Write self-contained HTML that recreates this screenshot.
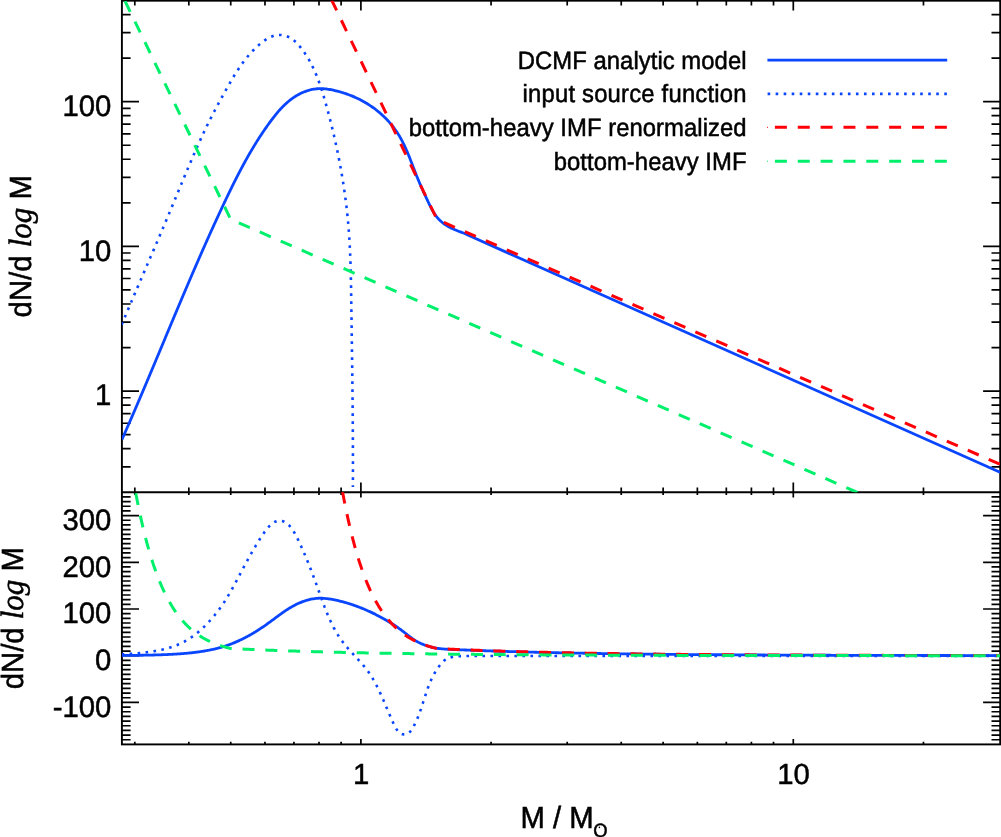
<!DOCTYPE html>
<html><head><meta charset="utf-8"><title>DCMF plot</title>
<style>html,body{margin:0;padding:0;background:#fff}svg{display:block}</style></head>
<body><svg width="1001" height="837" viewBox="0 0 1001 837">
<defs>
<clipPath id="ct"><rect x="121.9" y="0.7" width="878.3000000000001" height="491.6"/></clipPath>
<clipPath id="cb"><rect x="121.9" y="492.3" width="878.3000000000001" height="252.09999999999997"/></clipPath>
</defs>
<rect width="1001" height="837" fill="#fff"/>
<g fill="none" stroke="#000" stroke-width="1.9">
<path d="M121.90,466.79L130.60,466.79M1000.20,466.79L991.50,466.79M121.90,448.71L130.60,448.71M1000.20,448.71L991.50,448.71M121.90,434.69L130.60,434.69M1000.20,434.69L991.50,434.69M121.90,423.23L130.60,423.23M1000.20,423.23L991.50,423.23M121.90,413.54L130.60,413.54M1000.20,413.54L991.50,413.54M121.90,405.14L130.60,405.14M1000.20,405.14L991.50,405.14M121.90,397.74L130.60,397.74M1000.20,397.74L991.50,397.74M121.90,391.12L139.00,391.12M1000.20,391.12L983.10,391.12M121.90,347.55L130.60,347.55M1000.20,347.55L991.50,347.55M121.90,322.07L130.60,322.07M1000.20,322.07L991.50,322.07M121.90,303.99L130.60,303.99M1000.20,303.99L991.50,303.99M121.90,289.97L130.60,289.97M1000.20,289.97L991.50,289.97M121.90,278.51L130.60,278.51M1000.20,278.51L991.50,278.51M121.90,268.82L130.60,268.82M1000.20,268.82L991.50,268.82M121.90,260.42L130.60,260.42M1000.20,260.42L991.50,260.42M121.90,253.02L130.60,253.02M1000.20,253.02L991.50,253.02M121.90,246.40L139.00,246.40M1000.20,246.40L983.10,246.40M121.90,202.83L130.60,202.83M1000.20,202.83L991.50,202.83M121.90,177.35L130.60,177.35M1000.20,177.35L991.50,177.35M121.90,159.27L130.60,159.27M1000.20,159.27L991.50,159.27M121.90,145.25L130.60,145.25M1000.20,145.25L991.50,145.25M121.90,133.79L130.60,133.79M1000.20,133.79L991.50,133.79M121.90,124.10L130.60,124.10M1000.20,124.10L991.50,124.10M121.90,115.70L130.60,115.70M1000.20,115.70L991.50,115.70M121.90,108.30L130.60,108.30M1000.20,108.30L991.50,108.30M121.90,101.68L139.00,101.68M1000.20,101.68L983.10,101.68M121.90,58.11L130.60,58.11M1000.20,58.11L991.50,58.11M121.90,32.63L130.60,32.63M1000.20,32.63L991.50,32.63M121.90,14.55L130.60,14.55M1000.20,14.55L991.50,14.55M121.90,739.76L130.60,739.76M1000.20,739.76L991.50,739.76M121.90,735.09L130.60,735.09M1000.20,735.09L991.50,735.09M121.90,730.42L130.60,730.42M1000.20,730.42L991.50,730.42M121.90,725.75L130.60,725.75M1000.20,725.75L991.50,725.75M121.90,721.08L130.60,721.08M1000.20,721.08L991.50,721.08M121.90,716.41L130.60,716.41M1000.20,716.41L991.50,716.41M121.90,711.74L130.60,711.74M1000.20,711.74L991.50,711.74M121.90,707.07L130.60,707.07M1000.20,707.07L991.50,707.07M121.90,702.40L139.00,702.40M1000.20,702.40L983.10,702.40M121.90,697.73L130.60,697.73M1000.20,697.73L991.50,697.73M121.90,693.06L130.60,693.06M1000.20,693.06L991.50,693.06M121.90,688.39L130.60,688.39M1000.20,688.39L991.50,688.39M121.90,683.72L130.60,683.72M1000.20,683.72L991.50,683.72M121.90,679.05L130.60,679.05M1000.20,679.05L991.50,679.05M121.90,674.38L130.60,674.38M1000.20,674.38L991.50,674.38M121.90,669.71L130.60,669.71M1000.20,669.71L991.50,669.71M121.90,665.04L130.60,665.04M1000.20,665.04L991.50,665.04M121.90,660.37L130.60,660.37M1000.20,660.37L991.50,660.37M121.90,655.70L139.00,655.70M1000.20,655.70L983.10,655.70M121.90,651.03L130.60,651.03M1000.20,651.03L991.50,651.03M121.90,646.36L130.60,646.36M1000.20,646.36L991.50,646.36M121.90,641.69L130.60,641.69M1000.20,641.69L991.50,641.69M121.90,637.02L130.60,637.02M1000.20,637.02L991.50,637.02M121.90,632.35L130.60,632.35M1000.20,632.35L991.50,632.35M121.90,627.68L130.60,627.68M1000.20,627.68L991.50,627.68M121.90,623.01L130.60,623.01M1000.20,623.01L991.50,623.01M121.90,618.34L130.60,618.34M1000.20,618.34L991.50,618.34M121.90,613.67L130.60,613.67M1000.20,613.67L991.50,613.67M121.90,609.00L139.00,609.00M1000.20,609.00L983.10,609.00M121.90,604.33L130.60,604.33M1000.20,604.33L991.50,604.33M121.90,599.66L130.60,599.66M1000.20,599.66L991.50,599.66M121.90,594.99L130.60,594.99M1000.20,594.99L991.50,594.99M121.90,590.32L130.60,590.32M1000.20,590.32L991.50,590.32M121.90,585.65L130.60,585.65M1000.20,585.65L991.50,585.65M121.90,580.98L130.60,580.98M1000.20,580.98L991.50,580.98M121.90,576.31L130.60,576.31M1000.20,576.31L991.50,576.31M121.90,571.64L130.60,571.64M1000.20,571.64L991.50,571.64M121.90,566.97L130.60,566.97M1000.20,566.97L991.50,566.97M121.90,562.30L139.00,562.30M1000.20,562.30L983.10,562.30M121.90,557.63L130.60,557.63M1000.20,557.63L991.50,557.63M121.90,552.96L130.60,552.96M1000.20,552.96L991.50,552.96M121.90,548.29L130.60,548.29M1000.20,548.29L991.50,548.29M121.90,543.62L130.60,543.62M1000.20,543.62L991.50,543.62M121.90,538.95L130.60,538.95M1000.20,538.95L991.50,538.95M121.90,534.28L130.60,534.28M1000.20,534.28L991.50,534.28M121.90,529.61L130.60,529.61M1000.20,529.61L991.50,529.61M121.90,524.94L130.60,524.94M1000.20,524.94L991.50,524.94M121.90,520.27L130.60,520.27M1000.20,520.27L991.50,520.27M121.90,515.60L139.00,515.60M1000.20,515.60L983.10,515.60M121.90,510.93L130.60,510.93M1000.20,510.93L991.50,510.93M121.90,506.26L130.60,506.26M1000.20,506.26L991.50,506.26M121.90,501.59L130.60,501.59M1000.20,501.59L991.50,501.59M121.90,496.92L130.60,496.92M1000.20,496.92L991.50,496.92M134.81,0.70L134.81,5.60M134.81,492.30L134.81,487.40M134.81,492.30L134.81,494.90M134.81,744.40L134.81,741.80M188.83,0.70L188.83,5.60M188.83,492.30L188.83,487.40M188.83,492.30L188.83,494.90M188.83,744.40L188.83,741.80M230.73,0.70L230.73,5.60M230.73,492.30L230.73,487.40M230.73,492.30L230.73,494.90M230.73,744.40L230.73,741.80M264.97,0.70L264.97,5.60M264.97,492.30L264.97,487.40M264.97,492.30L264.97,494.90M264.97,744.40L264.97,741.80M293.92,0.70L293.92,5.60M293.92,492.30L293.92,487.40M293.92,492.30L293.92,494.90M293.92,744.40L293.92,741.80M319.00,0.70L319.00,5.60M319.00,492.30L319.00,487.40M319.00,492.30L319.00,494.90M319.00,744.40L319.00,741.80M341.11,0.70L341.11,5.60M341.11,492.30L341.11,487.40M341.11,492.30L341.11,494.90M341.11,744.40L341.11,741.80M360.90,0.70L360.90,10.50M360.90,492.30L360.90,482.50M360.90,492.30L360.90,497.60M360.90,744.40L360.90,739.10M491.07,0.70L491.07,5.60M491.07,492.30L491.07,487.40M491.07,492.30L491.07,494.90M491.07,744.40L491.07,741.80M567.21,0.70L567.21,5.60M567.21,492.30L567.21,487.40M567.21,492.30L567.21,494.90M567.21,744.40L567.21,741.80M621.23,0.70L621.23,5.60M621.23,492.30L621.23,487.40M621.23,492.30L621.23,494.90M621.23,744.40L621.23,741.80M663.13,0.70L663.13,5.60M663.13,492.30L663.13,487.40M663.13,492.30L663.13,494.90M663.13,744.40L663.13,741.80M697.37,0.70L697.37,5.60M697.37,492.30L697.37,487.40M697.37,492.30L697.37,494.90M697.37,744.40L697.37,741.80M726.32,0.70L726.32,5.60M726.32,492.30L726.32,487.40M726.32,492.30L726.32,494.90M726.32,744.40L726.32,741.80M751.40,0.70L751.40,5.60M751.40,492.30L751.40,487.40M751.40,492.30L751.40,494.90M751.40,744.40L751.40,741.80M773.51,0.70L773.51,5.60M773.51,492.30L773.51,487.40M773.51,492.30L773.51,494.90M773.51,744.40L773.51,741.80M793.30,0.70L793.30,10.50M793.30,492.30L793.30,482.50M793.30,492.30L793.30,497.60M793.30,744.40L793.30,739.10M923.47,0.70L923.47,5.60M923.47,492.30L923.47,487.40M923.47,492.30L923.47,494.90M923.47,744.40L923.47,741.80" stroke-width="1.7"/>
<rect x="121.9" y="0.7" width="878.3000000000001" height="743.6999999999999"/>
<path d="M121.9,492.3L1000.2,492.3"/>
</g>
<g fill="none" stroke-width="3" stroke-linejoin="round" clip-path="url(#ct)">
<path d="M122.03,439.36 L122.55,438.21 L123.06,437.05 L123.57,435.89 L124.08,434.73 L124.59,433.58 L125.10,432.42 L125.61,431.26 L126.12,430.10 L126.63,428.94 L127.14,427.78 L127.65,426.62 L128.15,425.46 L128.66,424.30 L129.17,423.14 L129.67,421.98 L130.18,420.82 L130.68,419.66 L131.19,418.49 L131.69,417.33 L132.19,416.17 L132.70,415.01 L133.20,413.85 L133.70,412.68 L134.20,411.52 L134.70,410.36 L135.20,409.19 L135.70,408.03 L136.20,406.87 L136.70,405.70 L137.20,404.54 L137.70,403.38 L138.20,402.21 L138.69,401.05 L139.19,399.88 L139.69,398.72 L140.19,397.55 L140.68,396.39 L141.18,395.22 L141.67,394.06 L142.17,392.89 L142.67,391.72 L143.16,390.56 L143.65,389.39 L144.15,388.23 L144.64,387.06 L145.14,385.89 L145.63,384.73 L146.12,383.56 L146.62,382.39 L147.11,381.23 L147.60,380.06 L148.09,378.89 L148.59,377.73 L149.08,376.56 L149.57,375.39 L150.06,374.22 L150.55,373.06 L151.04,371.89 L151.53,370.72 L152.02,369.55 L152.52,368.38 L153.01,367.22 L153.50,366.05 L153.99,364.88 L154.48,363.71 L154.97,362.54 L155.46,361.37 L155.94,360.21 L156.43,359.04 L156.92,357.87 L157.41,356.70 L157.90,355.53 L158.39,354.36 L158.88,353.19 L159.37,352.02 L159.86,350.86 L160.35,349.69 L160.84,348.52 L161.32,347.35 L161.81,346.18 L162.30,345.01 L162.79,343.84 L163.28,342.67 L163.77,341.50 L164.26,340.34 L164.75,339.17 L165.23,338.00 L165.72,336.83 L166.21,335.66 L166.70,334.49 L167.19,333.32 L167.68,332.15 L168.17,330.98 L168.66,329.82 L169.15,328.65 L169.64,327.48 L170.13,326.31 L170.62,325.14 L171.10,323.97 L171.59,322.80 L172.08,321.64 L172.57,320.47 L173.06,319.30 L173.56,318.13 L174.05,316.96 L174.54,315.79 L175.03,314.63 L175.52,313.46 L176.01,312.29 L176.50,311.12 L176.99,309.95 L177.48,308.79 L177.98,307.62 L178.47,306.45 L178.96,305.28 L179.45,304.12 L179.95,302.95 L180.44,301.78 L180.93,300.62 L181.43,299.45 L181.92,298.28 L182.41,297.12 L182.91,295.95 L183.40,294.78 L183.90,293.62 L184.39,292.45 L184.89,291.28 L185.39,290.12 L185.88,288.95 L186.38,287.79 L186.88,286.62 L187.37,285.46 L187.87,284.29 L188.37,283.13 L188.87,281.96 L189.37,280.80 L189.86,279.63 L190.36,278.47 L190.86,277.31 L191.36,276.14 L191.87,274.98 L192.37,273.82 L192.87,272.65 L193.37,271.49 L193.87,270.33 L194.38,269.16 L194.88,268.00 L195.38,266.84 L195.89,265.68 L196.39,264.52 L196.90,263.35 L197.40,262.19 L197.91,261.03 L198.42,259.87 L198.92,258.71 L199.43,257.55 L199.94,256.39 L200.45,255.23 L200.96,254.07 L201.47,252.91 L201.98,251.75 L202.49,250.59 L203.00,249.43 L203.51,248.28 L204.03,247.12 L204.54,245.96 L205.05,244.80 L205.57,243.65 L206.08,242.49 L206.60,241.33 L207.12,240.18 L207.63,239.02 L208.15,237.86 L208.67,236.71 L209.19,235.55 L209.71,234.40 L210.23,233.24 L210.75,232.09 L211.27,230.94 L211.80,229.78 L212.32,228.63 L212.84,227.48 L213.37,226.32 L213.89,225.17 L214.42,224.02 L214.95,222.87 L215.47,221.72 L216.00,220.57 L216.53,219.42 L217.06,218.27 L217.59,217.12 L218.12,215.97 L218.66,214.82 L219.19,213.67 L219.72,212.52 L220.26,211.37 L220.79,210.22 L221.33,209.08 L221.87,207.93 L222.40,206.78 L222.94,205.64 L223.48,204.49 L224.02,203.35 L224.56,202.20 L225.11,201.06 L225.65,199.91 L226.19,198.77 L226.74,197.63 L227.29,196.48 L227.83,195.34 L228.38,194.20 L228.93,193.06 L229.49,191.92 L230.04,190.78 L230.59,189.64 L231.15,188.51 L231.71,187.37 L232.27,186.23 L232.83,185.10 L233.39,183.97 L233.96,182.83 L234.52,181.70 L235.09,180.57 L235.66,179.44 L236.23,178.31 L236.81,177.18 L237.38,176.06 L237.96,174.93 L238.54,173.81 L239.13,172.68 L239.71,171.56 L240.30,170.44 L240.89,169.32 L241.48,168.21 L242.08,167.09 L242.68,165.97 L243.28,164.86 L243.88,163.75 L244.49,162.64 L245.10,161.53 L245.71,160.42 L246.33,159.32 L246.94,158.21 L247.56,157.11 L248.19,156.01 L248.82,154.91 L249.45,153.82 L250.08,152.72 L250.72,151.63 L251.36,150.54 L252.00,149.45 L252.65,148.36 L253.30,147.28 L253.96,146.19 L254.61,145.11 L255.28,144.03 L255.94,142.96 L256.61,141.88 L257.28,140.81 L257.96,139.74 L258.64,138.67 L259.33,137.61 L260.02,136.54 L260.71,135.48 L261.41,134.42 L262.11,133.37 L262.82,132.31 L263.53,131.26 L264.24,130.21 L264.96,129.17 L265.69,128.12 L266.42,127.08 L267.15,126.04 L267.89,125.01 L268.63,123.97 L269.38,122.94 L270.13,121.92 L270.89,120.89 L271.65,119.87 L272.42,118.85 L273.19,117.84 L273.97,116.83 L274.76,115.83 L275.56,114.84 L276.36,113.85 L277.17,112.87 L278.00,111.90 L278.83,110.94 L279.67,109.99 L280.52,109.05 L281.38,108.12 L282.25,107.21 L283.14,106.31 L284.04,105.42 L284.94,104.54 L285.87,103.68 L286.80,102.84 L287.75,102.01 L288.72,101.20 L289.70,100.40 L290.69,99.63 L291.70,98.87 L292.73,98.13 L293.78,97.42 L294.84,96.72 L295.92,96.05 L297.01,95.40 L298.12,94.77 L299.24,94.17 L300.38,93.59 L301.53,93.04 L302.69,92.52 L303.86,92.03 L305.05,91.56 L306.24,91.13 L307.44,90.72 L308.65,90.35 L309.87,90.02 L311.09,89.71 L312.32,89.45 L313.55,89.21 L314.79,89.02 L316.03,88.86 L317.27,88.75 L318.52,88.67 L319.76,88.63 L321.01,88.63 L322.26,88.66 L323.50,88.73 L324.75,88.83 L326.00,88.96 L327.25,89.11 L328.49,89.30 L329.74,89.50 L330.99,89.73 L332.23,89.97 L333.47,90.23 L334.72,90.51 L335.96,90.80 L337.19,91.11 L338.43,91.43 L339.66,91.77 L340.89,92.12 L342.12,92.48 L343.34,92.86 L344.56,93.25 L345.77,93.66 L346.98,94.08 L348.19,94.51 L349.39,94.96 L350.58,95.43 L351.77,95.90 L352.96,96.39 L354.13,96.90 L355.30,97.41 L356.46,97.94 L357.62,98.49 L358.77,99.05 L359.91,99.62 L361.04,100.20 L362.16,100.80 L363.28,101.41 L364.39,102.04 L365.49,102.67 L366.58,103.32 L367.66,103.99 L368.73,104.66 L369.79,105.35 L370.84,106.05 L371.89,106.77 L372.92,107.49 L373.95,108.23 L374.96,108.98 L375.96,109.75 L376.96,110.52 L377.94,111.31 L378.91,112.11 L379.87,112.92 L380.82,113.75 L381.76,114.58 L382.69,115.43 L383.60,116.29 L384.51,117.16 L385.40,118.04 L386.28,118.93 L387.15,119.84 L388.00,120.75 L388.84,121.68 L389.67,122.62 L390.49,123.57 L391.30,124.53 L392.09,125.50 L392.87,126.48 L393.63,127.47 L394.38,128.48 L395.12,129.49 L395.84,130.52 L396.55,131.55 L397.24,132.59 L397.92,133.65 L398.59,134.71 L399.24,135.79 L399.88,136.87 L400.50,137.97 L401.11,139.07 L401.71,140.18 L402.30,141.30 L402.87,142.43 L403.44,143.56 L403.99,144.70 L404.54,145.85 L405.07,147.00 L405.60,148.16 L406.12,149.32 L406.63,150.49 L407.13,151.66 L407.63,152.84 L408.12,154.02 L408.61,155.21 L409.09,156.39 L409.56,157.58 L410.03,158.77 L410.50,159.97 L410.96,161.16 L411.43,162.36 L411.89,163.56 L412.34,164.75 L412.80,165.95 L413.26,167.14 L413.71,168.34 L414.17,169.53 L414.63,170.73 L415.09,171.92 L415.55,173.10 L416.01,174.29 L416.48,175.47 L416.95,176.65 L417.42,177.82 L417.90,178.99 L418.39,180.16 L418.87,181.32 L419.37,182.48 L419.86,183.63 L420.36,184.78 L420.87,185.93 L421.37,187.08 L421.88,188.23 L422.40,189.38 L422.92,190.52 L423.44,191.67 L423.96,192.81 L424.49,193.96 L425.01,195.10 L425.55,196.25 L426.08,197.40 L426.62,198.55 L427.16,199.70 L427.70,200.85 L428.24,202.01 L428.79,203.17 L429.34,204.32 L429.90,205.47 L430.48,206.62 L431.06,207.75 L431.66,208.88 L432.27,209.99 L432.90,211.09 L433.55,212.18 L434.22,213.24 L434.91,214.29 L435.62,215.32 L436.36,216.32 L437.13,217.29 L437.93,218.24 L438.75,219.16 L439.61,220.05 L440.50,220.90 L441.42,221.73 L442.38,222.53 L443.36,223.29 L444.36,224.03 L445.39,224.74 L446.45,225.42 L447.53,226.08 L448.62,226.71 L449.74,227.32 L450.88,227.90 L452.04,228.46 L453.20,228.99 L454.38,229.51 L455.57,230.01 L456.77,230.50 L457.97,230.97 L459.17,231.44 L460.38,231.89 L461.58,232.34 L462.77,232.78 L463.96,233.22 L465.14,233.65 L470.00,236.08 L1000.00,472.20" stroke="#0a46ff" stroke-width="2.8"/>
<path d="M121.65,324.72 L122.17,323.48 L122.70,322.23 L123.22,320.98 L123.74,319.73 L124.27,318.49 L124.79,317.24 L125.32,316.00 L125.84,314.75 L126.37,313.50 L126.90,312.26 L127.42,311.01 L127.95,309.77 L128.48,308.52 L129.01,307.28 L129.54,306.03 L130.07,304.79 L130.60,303.55 L131.13,302.30 L131.66,301.06 L132.19,299.81 L132.72,298.57 L133.25,297.33 L133.78,296.08 L134.31,294.84 L134.84,293.60 L135.37,292.35 L135.91,291.11 L136.44,289.87 L136.97,288.63 L137.50,287.38 L138.04,286.14 L138.57,284.90 L139.10,283.66 L139.64,282.42 L140.17,281.17 L140.70,279.93 L141.24,278.69 L141.77,277.45 L142.31,276.21 L142.84,274.97 L143.37,273.72 L143.91,272.48 L144.44,271.24 L144.98,270.00 L145.51,268.76 L146.05,267.52 L146.58,266.27 L147.12,265.03 L147.65,263.79 L148.18,262.55 L148.72,261.31 L149.25,260.07 L149.79,258.83 L150.32,257.58 L150.86,256.34 L151.39,255.10 L151.92,253.86 L152.46,252.62 L152.99,251.38 L153.53,250.13 L154.06,248.89 L154.59,247.65 L155.13,246.41 L155.66,245.17 L156.19,243.92 L156.73,242.68 L157.26,241.44 L157.79,240.20 L158.32,238.95 L158.85,237.71 L159.39,236.47 L159.92,235.23 L160.45,233.98 L160.98,232.74 L161.51,231.50 L162.04,230.25 L162.57,229.01 L163.10,227.77 L163.63,226.52 L164.16,225.28 L164.69,224.03 L165.21,222.79 L165.74,221.54 L166.27,220.30 L166.80,219.05 L167.32,217.81 L167.85,216.56 L168.37,215.32 L168.90,214.07 L169.42,212.82 L169.95,211.58 L170.47,210.33 L170.99,209.08 L171.52,207.84 L172.04,206.59 L172.56,205.34 L173.08,204.09 L173.60,202.85 L174.12,201.60 L174.64,200.35 L175.16,199.10 L175.68,197.85 L176.20,196.60 L176.72,195.35 L177.23,194.10 L177.75,192.85 L178.27,191.60 L178.78,190.35 L179.30,189.10 L179.82,187.85 L180.34,186.60 L180.85,185.35 L181.37,184.10 L181.89,182.85 L182.40,181.60 L182.92,180.35 L183.44,179.10 L183.96,177.85 L184.48,176.60 L185.00,175.35 L185.52,174.10 L186.04,172.86 L186.56,171.61 L187.08,170.36 L187.61,169.11 L188.13,167.87 L188.66,166.62 L189.18,165.37 L189.71,164.13 L190.24,162.89 L190.77,161.64 L191.30,160.40 L191.83,159.15 L192.36,157.91 L192.90,156.67 L193.44,155.43 L193.97,154.19 L194.51,152.95 L195.06,151.71 L195.60,150.48 L196.14,149.24 L196.69,148.00 L197.24,146.77 L197.79,145.53 L198.34,144.30 L198.89,143.07 L199.45,141.84 L200.01,140.61 L200.57,139.38 L201.13,138.15 L201.70,136.93 L202.27,135.70 L202.84,134.48 L203.41,133.25 L203.99,132.03 L204.56,130.81 L205.14,129.59 L205.73,128.37 L206.31,127.16 L206.90,125.94 L207.50,124.73 L208.09,123.52 L208.69,122.31 L209.29,121.10 L209.89,119.89 L210.50,118.68 L211.11,117.48 L211.73,116.28 L212.34,115.08 L212.96,113.88 L213.59,112.68 L214.21,111.48 L214.84,110.28 L215.47,109.09 L216.10,107.89 L216.74,106.70 L217.38,105.51 L218.02,104.32 L218.66,103.13 L219.31,101.94 L219.95,100.76 L220.60,99.57 L221.25,98.38 L221.90,97.20 L222.56,96.01 L223.21,94.83 L223.87,93.65 L224.53,92.46 L225.19,91.28 L225.85,90.10 L226.52,88.92 L227.18,87.74 L227.85,86.56 L228.52,85.38 L229.19,84.20 L229.86,83.03 L230.54,81.86 L231.22,80.69 L231.91,79.52 L232.60,78.36 L233.30,77.20 L234.00,76.05 L234.71,74.89 L235.42,73.75 L236.14,72.61 L236.86,71.47 L237.60,70.34 L238.34,69.21 L239.08,68.09 L239.84,66.98 L240.60,65.87 L241.38,64.77 L242.16,63.67 L242.95,62.59 L243.75,61.51 L244.56,60.44 L245.38,59.38 L246.22,58.32 L247.06,57.28 L247.92,56.24 L248.79,55.21 L249.67,54.20 L250.57,53.19 L251.47,52.20 L252.40,51.21 L253.33,50.24 L254.29,49.27 L255.25,48.32 L256.24,47.38 L257.24,46.45 L258.25,45.54 L259.28,44.64 L260.33,43.75 L261.40,42.87 L262.49,42.01 L263.59,41.17 L264.71,40.36 L265.85,39.59 L267.01,38.85 L268.19,38.16 L269.39,37.52 L270.60,36.94 L271.83,36.43 L273.09,35.98 L274.36,35.61 L275.65,35.32 L276.96,35.12 L278.28,35.00 L279.61,34.96 L280.94,35.00 L282.27,35.13 L283.59,35.34 L284.89,35.63 L286.17,35.99 L287.43,36.44 L288.65,36.96 L289.84,37.56 L290.99,38.23 L292.11,38.97 L293.18,39.78 L294.22,40.64 L295.22,41.55 L296.20,42.50 L297.15,43.49 L298.07,44.50 L298.98,45.53 L299.86,46.58 L300.72,47.64 L301.56,48.71 L302.39,49.80 L303.19,50.89 L303.98,51.99 L304.76,53.10 L305.51,54.22 L306.25,55.34 L306.97,56.48 L307.68,57.63 L308.37,58.78 L309.05,59.95 L309.71,61.12 L310.36,62.30 L310.99,63.48 L311.61,64.67 L312.22,65.87 L312.81,67.08 L313.39,68.30 L313.96,69.52 L314.51,70.74 L315.06,71.98 L315.59,73.21 L316.12,74.46 L316.63,75.71 L317.13,76.96 L317.62,78.22 L318.10,79.48 L318.58,80.75 L319.04,82.02 L319.50,83.30 L319.94,84.58 L320.38,85.86 L320.82,87.15 L321.24,88.44 L321.66,89.73 L322.07,91.02 L322.48,92.32 L322.88,93.62 L323.27,94.92 L323.66,96.22 L324.05,97.52 L324.43,98.83 L324.81,100.14 L325.18,101.44 L325.55,102.75 L325.92,104.06 L326.29,105.36 L326.65,106.67 L327.01,107.98 L327.36,109.29 L327.72,110.60 L328.07,111.90 L328.42,113.21 L328.77,114.52 L329.11,115.83 L329.45,117.14 L329.79,118.45 L330.13,119.76 L330.46,121.07 L330.79,122.38 L331.12,123.69 L331.45,125.00 L331.77,126.31 L332.09,127.62 L332.41,128.93 L332.73,130.24 L333.04,131.56 L333.35,132.87 L333.66,134.18 L333.97,135.50 L334.27,136.81 L334.57,138.13 L334.87,139.44 L335.16,140.76 L335.45,142.07 L335.74,143.39 L336.03,144.70 L336.32,146.02 L336.60,147.34 L336.88,148.66 L337.15,149.98 L337.43,151.30 L337.70,152.62 L337.97,153.94 L338.24,155.26 L338.50,156.58 L338.76,157.91 L339.02,159.23 L339.28,160.55 L339.53,161.88 L339.78,163.21 L340.03,164.53 L340.27,165.86 L340.52,167.19 L340.76,168.52 L341.00,169.85 L341.23,171.18 L341.46,172.51 L341.69,173.84 L341.92,175.17 L342.14,176.50 L342.37,177.84 L342.59,179.17 L342.80,180.51 L343.02,181.84 L343.23,183.18 L343.43,184.52 L343.64,185.85 L343.84,187.19 L344.04,188.53 L344.24,189.87 L344.43,191.21 L344.62,192.55 L344.81,193.89 L345.00,195.23 L345.18,196.57 L345.36,197.91 L345.54,199.26 L345.71,200.60 L345.88,201.94 L346.05,203.29 L346.21,204.63 L346.37,205.97 L346.53,207.32 L346.69,208.66 L346.84,210.01 L346.99,211.35 L347.14,212.70 L347.28,214.05 L347.42,215.39 L347.56,216.74 L347.69,218.09 L347.82,219.43 L347.95,220.78 L348.08,222.13 L348.20,223.48 L348.32,224.82 L348.43,226.17 L348.54,227.52 L348.65,228.87 L348.76,230.22 L348.86,231.56 L348.96,232.91 L349.06,234.26 L349.15,235.61 L349.24,236.96 L349.33,238.31 L349.41,239.66 L349.49,241.01 L349.57,242.36 L349.65,243.70 L349.72,245.05 L349.79,246.40 L349.86,247.75 L349.93,249.10 L349.99,250.45 L350.05,251.80 L350.11,253.15 L350.17,254.50 L350.22,255.85 L350.28,257.20 L350.33,258.55 L350.38,259.90 L350.42,261.25 L350.47,262.60 L350.51,263.95 L350.55,265.30 L350.60,266.65 L350.63,268.00 L350.67,269.35 L350.71,270.70 L350.74,272.05 L350.77,273.40 L350.81,274.75 L350.84,276.10 L350.87,277.46 L350.89,278.81 L350.92,280.16 L350.95,281.51 L350.97,282.86 L351.00,284.21 L351.02,285.56 L351.05,286.91 L351.07,288.26 L351.09,289.61 L351.11,290.97 L351.13,292.32 L351.15,293.67 L351.17,295.02 L351.19,296.37 L351.21,297.72 L351.23,299.07 L351.25,300.43 L351.27,301.78 L351.29,303.13 L351.31,304.48 L351.33,305.83 L351.35,307.18 L351.37,308.53 L351.39,309.89 L351.41,311.24 L351.43,312.59 L351.45,313.94 L351.47,315.29 L351.49,316.64 L351.51,318.00 L351.53,319.35 L351.55,320.70 L351.57,322.05 L351.59,323.40 L351.61,324.76 L351.63,326.11 L351.65,327.46 L351.66,328.81 L351.68,330.16 L351.70,331.52 L351.72,332.87 L351.74,334.22 L351.76,335.57 L351.78,336.92 L351.80,338.28 L351.82,339.63 L351.84,340.98 L351.86,342.33 L351.88,343.68 L351.90,345.04 L351.92,346.39 L351.93,347.74 L351.95,349.09 L351.97,350.44 L351.99,351.80 L352.01,353.15 L352.03,354.50 L352.05,355.85 L352.06,357.21 L352.08,358.56 L352.10,359.91 L352.12,361.26 L352.14,362.61 L352.15,363.97 L352.17,365.32 L352.19,366.67 L352.21,368.02 L352.22,369.38 L352.24,370.73 L352.26,372.08 L352.28,373.43 L352.29,374.78 L352.31,376.14 L352.33,377.49 L352.34,378.84 L352.36,380.19 L352.37,381.55 L352.39,382.90 L352.41,384.25 L352.42,385.60 L352.44,386.96 L352.45,388.31 L352.47,389.66 L352.48,391.01 L352.50,392.37 L352.51,393.72 L352.53,395.07 L352.54,396.42 L352.55,397.77 L352.57,399.13 L352.58,400.48 L352.59,401.83 L352.61,403.18 L352.62,404.54 L352.63,405.89 L352.65,407.24 L352.66,408.59 L352.67,409.94 L352.68,411.30 L352.69,412.65 L352.71,414.00 L352.72,415.35 L352.73,416.71 L352.74,418.06 L352.75,419.41 L352.76,420.76 L352.77,422.11 L352.78,423.47 L352.79,424.82 L352.80,426.17 L352.81,427.52 L352.82,428.88 L352.82,430.23 L352.83,431.58 L352.84,432.93 L352.85,434.28 L352.85,435.64 L352.86,436.99 L352.87,438.34 L352.88,439.69 L352.88,441.04 L352.89,442.40 L352.89,443.75 L352.90,445.10 L352.90,446.45 L352.91,447.80 L352.91,449.16 L352.92,450.51 L352.92,451.86 L352.92,453.21 L352.93,454.56 L352.93,455.91 L352.93,457.27 L352.93,458.62 L352.94,459.97 L352.94,461.32 L352.94,462.67 L352.94,464.02 L352.94,465.38 L352.94,466.73 L352.94,468.08 L352.94,469.43 L352.94,470.78 L352.94,472.13 L352.93,473.48 L352.93,474.84 L352.93,476.19 L352.93,477.54 L352.92,478.89 L352.92,480.24 L352.91,481.59 L352.91,482.94 L352.91,484.29 L352.90,485.65 L352.89,487.00" stroke="#0a46ff" stroke-width="2.6" stroke-dasharray="2.6 5.4"/>
<path d="M325.00,-13.80 L437.00,219.50 L1000.00,464.24" stroke="#ff0008" stroke-dasharray="12 10.85" stroke-dashoffset="7.94"/>
<path d="M121.90,-5.37 L230.70,219.30 L1000.00,554.56" stroke="#00f06c" stroke-dasharray="12 10.85" stroke-dashoffset="15.68"/>
</g>
<g fill="none" stroke-width="3" stroke-linejoin="round" clip-path="url(#cb)">
<path d="M122.03,655.48 L122.55,655.48 L123.06,655.48 L123.57,655.47 L124.08,655.47 L124.59,655.46 L125.10,655.46 L125.61,655.45 L126.12,655.45 L126.63,655.44 L127.14,655.44 L127.65,655.43 L128.15,655.43 L128.66,655.42 L129.17,655.42 L129.67,655.41 L130.18,655.41 L130.68,655.40 L131.19,655.40 L131.69,655.39 L132.19,655.39 L132.70,655.38 L133.20,655.37 L133.70,655.37 L134.20,655.36 L134.70,655.36 L135.20,655.35 L135.70,655.34 L136.20,655.34 L136.70,655.33 L137.20,655.32 L137.70,655.32 L138.20,655.31 L138.69,655.30 L139.19,655.29 L139.69,655.29 L140.19,655.28 L140.68,655.27 L141.18,655.26 L141.67,655.25 L142.17,655.25 L142.67,655.24 L143.16,655.23 L143.65,655.22 L144.15,655.21 L144.64,655.20 L145.14,655.19 L145.63,655.18 L146.12,655.17 L146.62,655.16 L147.11,655.15 L147.60,655.14 L148.09,655.13 L148.59,655.12 L149.08,655.11 L149.57,655.10 L150.06,655.09 L150.55,655.08 L151.04,655.07 L151.53,655.05 L152.02,655.04 L152.52,655.03 L153.01,655.02 L153.50,655.00 L153.99,654.99 L154.48,654.98 L154.97,654.96 L155.46,654.95 L155.94,654.94 L156.43,654.92 L156.92,654.91 L157.41,654.89 L157.90,654.88 L158.39,654.86 L158.88,654.85 L159.37,654.83 L159.86,654.81 L160.35,654.80 L160.84,654.78 L161.32,654.76 L161.81,654.75 L162.30,654.73 L162.79,654.71 L163.28,654.69 L163.77,654.67 L164.26,654.65 L164.75,654.63 L165.23,654.61 L165.72,654.59 L166.21,654.57 L166.70,654.55 L167.19,654.53 L167.68,654.51 L168.17,654.48 L168.66,654.46 L169.15,654.44 L169.64,654.41 L170.13,654.39 L170.62,654.37 L171.10,654.34 L171.59,654.32 L172.08,654.29 L172.57,654.26 L173.06,654.24 L173.56,654.21 L174.05,654.18 L174.54,654.15 L175.03,654.12 L175.52,654.09 L176.01,654.06 L176.50,654.03 L176.99,654.00 L177.48,653.97 L177.98,653.94 L178.47,653.90 L178.96,653.87 L179.45,653.84 L179.95,653.80 L180.44,653.77 L180.93,653.73 L181.43,653.69 L181.92,653.65 L182.41,653.62 L182.91,653.58 L183.40,653.54 L183.90,653.50 L184.39,653.46 L184.89,653.41 L185.39,653.37 L185.88,653.33 L186.38,653.28 L186.88,653.24 L187.37,653.19 L187.87,653.14 L188.37,653.10 L188.87,653.05 L189.37,653.00 L189.86,652.95 L190.36,652.90 L190.86,652.84 L191.36,652.79 L191.87,652.74 L192.37,652.68 L192.87,652.62 L193.37,652.57 L193.87,652.51 L194.38,652.45 L194.88,652.39 L195.38,652.33 L195.89,652.26 L196.39,652.20 L196.90,652.13 L197.40,652.07 L197.91,652.00 L198.42,651.93 L198.92,651.86 L199.43,651.79 L199.94,651.72 L200.45,651.64 L200.96,651.57 L201.47,651.49 L201.98,651.41 L202.49,651.33 L203.00,651.25 L203.51,651.17 L204.03,651.08 L204.54,651.00 L205.05,650.91 L205.57,650.82 L206.08,650.73 L206.60,650.64 L207.12,650.54 L207.63,650.45 L208.15,650.35 L208.67,650.25 L209.19,650.15 L209.71,650.05 L210.23,649.94 L210.75,649.84 L211.27,649.73 L211.80,649.62 L212.32,649.50 L212.84,649.39 L213.37,649.27 L213.89,649.15 L214.42,649.03 L214.95,648.91 L215.47,648.78 L216.00,648.66 L216.53,648.53 L217.06,648.39 L217.59,648.26 L218.12,648.12 L218.66,647.98 L219.19,647.84 L219.72,647.69 L220.26,647.55 L220.79,647.40 L221.33,647.24 L221.87,647.09 L222.40,646.93 L222.94,646.77 L223.48,646.60 L224.02,646.44 L224.56,646.27 L225.11,646.09 L225.65,645.92 L226.19,645.74 L226.74,645.55 L227.29,645.37 L227.83,645.18 L228.38,644.98 L228.93,644.79 L229.49,644.59 L230.04,644.39 L230.59,644.18 L231.15,643.97 L231.71,643.75 L232.27,643.54 L232.83,643.31 L233.39,643.09 L233.96,642.86 L234.52,642.63 L235.09,642.39 L235.66,642.15 L236.23,641.90 L236.81,641.65 L237.38,641.40 L237.96,641.14 L238.54,640.88 L239.13,640.61 L239.71,640.34 L240.30,640.06 L240.89,639.78 L241.48,639.50 L242.08,639.21 L242.68,638.91 L243.28,638.61 L243.88,638.31 L244.49,638.00 L245.10,637.68 L245.71,637.36 L246.33,637.03 L246.94,636.70 L247.56,636.37 L248.19,636.03 L248.82,635.68 L249.45,635.33 L250.08,634.97 L250.72,634.61 L251.36,634.24 L252.00,633.86 L252.65,633.48 L253.30,633.09 L253.96,632.70 L254.61,632.30 L255.28,631.90 L255.94,631.48 L256.61,631.07 L257.28,630.64 L257.96,630.21 L258.64,629.78 L259.33,629.33 L260.02,628.88 L260.71,628.43 L261.41,627.96 L262.11,627.49 L262.82,627.02 L263.53,626.53 L264.24,626.04 L264.96,625.54 L265.69,625.04 L266.42,624.53 L267.15,624.01 L267.89,623.48 L268.63,622.95 L269.38,622.40 L270.13,621.86 L270.89,621.30 L271.65,620.74 L272.42,620.17 L273.19,619.59 L273.97,619.01 L274.76,618.42 L275.56,617.82 L276.36,617.22 L277.17,616.62 L278.00,616.01 L278.83,615.40 L279.67,614.79 L280.52,614.17 L281.38,613.55 L282.25,612.93 L283.14,612.31 L284.04,611.70 L284.94,611.08 L285.87,610.46 L286.80,609.85 L287.75,609.24 L288.72,608.64 L289.70,608.04 L290.69,607.45 L291.70,606.87 L292.73,606.29 L293.78,605.72 L294.84,605.17 L295.92,604.62 L297.01,604.09 L298.12,603.57 L299.24,603.07 L300.38,602.59 L301.53,602.12 L302.69,601.67 L303.86,601.25 L305.05,600.84 L306.24,600.46 L307.44,600.11 L308.65,599.78 L309.87,599.48 L311.09,599.21 L312.32,598.96 L313.55,598.76 L314.79,598.58 L316.03,598.44 L317.27,598.33 L318.52,598.26 L319.76,598.22 L321.01,598.22 L322.26,598.25 L323.50,598.31 L324.75,598.41 L326.00,598.52 L327.25,598.66 L328.49,598.83 L329.74,599.01 L330.99,599.22 L332.23,599.44 L333.47,599.67 L334.72,599.92 L335.96,600.18 L337.19,600.45 L338.43,600.73 L339.66,601.02 L340.89,601.33 L342.12,601.64 L343.34,601.96 L344.56,602.30 L345.77,602.64 L346.98,603.00 L348.19,603.36 L349.39,603.73 L350.58,604.11 L351.77,604.50 L352.96,604.90 L354.13,605.31 L355.30,605.72 L356.46,606.14 L357.62,606.57 L358.77,607.00 L359.91,607.44 L361.04,607.89 L362.16,608.34 L363.28,608.80 L364.39,609.26 L365.49,609.73 L366.58,610.21 L367.66,610.68 L368.73,611.17 L369.79,611.65 L370.84,612.14 L371.89,612.63 L372.92,613.13 L373.95,613.62 L374.96,614.12 L375.96,614.63 L376.96,615.13 L377.94,615.64 L378.91,616.14 L379.87,616.65 L380.82,617.16 L381.76,617.67 L382.69,618.18 L383.60,618.69 L384.51,619.19 L385.40,619.70 L386.28,620.21 L387.15,620.72 L388.00,621.22 L388.84,621.73 L389.67,622.23 L390.49,622.73 L391.30,623.23 L392.09,623.73 L392.87,624.23 L393.63,624.72 L394.38,625.21 L395.12,625.70 L395.84,626.18 L396.55,626.67 L397.24,627.14 L397.92,627.62 L398.59,628.09 L399.24,628.56 L399.88,629.02 L400.50,629.48 L401.11,629.94 L401.71,630.39 L402.30,630.84 L402.87,631.28 L403.44,631.72 L403.99,632.15 L404.54,632.57 L405.07,632.99 L405.60,633.41 L406.12,633.82 L406.63,634.22 L407.13,634.62 L407.63,635.01 L408.12,635.39 L408.61,635.77 L409.09,636.15 L409.56,636.51 L410.03,636.87 L410.50,637.23 L410.96,637.57 L411.43,637.92 L411.89,638.25 L412.34,638.58 L412.80,638.90 L413.26,639.22 L413.71,639.53 L414.17,639.83 L414.63,640.13 L415.09,640.42 L415.55,640.71 L416.01,640.99 L416.48,641.26 L416.95,641.53 L417.42,641.79 L417.90,642.05 L418.39,642.30 L418.87,642.55 L419.37,642.79 L419.86,643.02 L420.36,643.25 L420.87,643.48 L421.37,643.70 L421.88,643.92 L422.40,644.13 L422.92,644.34 L423.44,644.54 L423.96,644.74 L424.49,644.94 L425.01,645.14 L425.55,645.33 L426.08,645.52 L426.62,645.70 L427.16,645.88 L427.70,646.06 L428.24,646.24 L428.79,646.41 L429.34,646.58 L429.90,646.74 L430.48,646.91 L431.06,647.06 L431.66,647.22 L432.27,647.37 L432.90,647.51 L433.55,647.65 L434.22,647.79 L434.91,647.92 L435.62,648.04 L436.36,648.16 L437.13,648.28 L437.93,648.39 L438.75,648.50 L439.61,648.60 L440.50,648.69 L441.42,648.79 L442.38,648.87 L443.36,648.95 L444.36,649.03 L445.39,649.11 L446.45,649.18 L447.53,649.25 L448.62,649.31 L449.74,649.37 L450.88,649.43 L452.04,649.49 L453.20,649.54 L454.38,649.59 L455.57,649.64 L456.77,649.69 L457.97,649.73 L459.17,649.77 L460.38,649.82 L461.58,649.86 L462.77,649.90 L463.96,649.94 L465.14,649.98 L466.12,650.02 L467.09,650.07 L468.06,650.11 L469.03,650.15 L470.00,650.20 L470.91,650.23 L471.83,650.27 L472.74,650.30 L473.66,650.34 L474.57,650.37 L475.48,650.41 L476.40,650.44 L477.31,650.47 L478.22,650.51 L479.14,650.54 L480.05,650.58 L480.97,650.61 L481.88,650.64 L482.79,650.67 L483.71,650.71 L484.62,650.74 L485.53,650.77 L486.45,650.80 L487.36,650.83 L488.28,650.87 L489.19,650.90 L490.10,650.93 L491.02,650.96 L491.93,650.99 L492.84,651.02 L493.76,651.05 L494.67,651.08 L495.59,651.11 L496.50,651.14 L497.41,651.17 L498.33,651.20 L499.24,651.23 L500.16,651.26 L501.07,651.28 L501.98,651.31 L502.90,651.34 L503.81,651.37 L504.72,651.40 L505.64,651.43 L506.55,651.45 L507.47,651.48 L508.38,651.51 L509.29,651.53 L510.21,651.56 L511.12,651.59 L512.03,651.61 L512.95,651.64 L513.86,651.67 L514.78,651.69 L515.69,651.72 L516.60,651.74 L517.52,651.77 L518.43,651.80 L519.34,651.82 L520.26,651.85 L521.17,651.87 L522.09,651.90 L523.00,651.92 L523.91,651.94 L524.83,651.97 L525.74,651.99 L526.66,652.02 L527.57,652.04 L528.48,652.06 L529.40,652.09 L530.31,652.11 L531.22,652.13 L532.14,652.16 L533.05,652.18 L533.97,652.20 L534.88,652.23 L535.79,652.25 L536.71,652.27 L537.62,652.29 L538.53,652.31 L539.45,652.34 L540.36,652.36 L541.28,652.38 L542.19,652.40 L543.10,652.42 L544.02,652.44 L544.93,652.46 L545.84,652.49 L546.76,652.51 L547.67,652.53 L548.59,652.55 L549.50,652.57 L550.41,652.59 L551.33,652.61 L552.24,652.63 L553.16,652.65 L554.07,652.67 L554.98,652.69 L555.90,652.71 L556.81,652.73 L557.72,652.74 L558.64,652.76 L559.55,652.78 L560.47,652.80 L561.38,652.82 L562.29,652.84 L563.21,652.86 L564.12,652.88 L565.03,652.89 L565.95,652.91 L566.86,652.93 L567.78,652.95 L568.69,652.97 L569.60,652.98 L570.52,653.00 L571.43,653.02 L572.34,653.04 L573.26,653.05 L574.17,653.07 L575.09,653.09 L576.00,653.10 L576.91,653.12 L577.83,653.14 L578.74,653.15 L579.66,653.17 L580.57,653.19 L581.48,653.20 L582.40,653.22 L583.31,653.24 L584.22,653.25 L585.14,653.27 L586.05,653.28 L586.97,653.30 L587.88,653.31 L588.79,653.33 L589.71,653.34 L590.62,653.36 L591.53,653.37 L592.45,653.39 L593.36,653.40 L594.28,653.42 L595.19,653.43 L596.10,653.45 L597.02,653.46 L597.93,653.48 L598.84,653.49 L599.76,653.51 L600.67,653.52 L601.59,653.53 L602.50,653.55 L603.41,653.56 L604.33,653.58 L605.24,653.59 L606.16,653.60 L607.07,653.62 L607.98,653.63 L608.90,653.64 L609.81,653.66 L610.72,653.67 L611.64,653.68 L612.55,653.70 L613.47,653.71 L614.38,653.72 L615.29,653.74 L616.21,653.75 L617.12,653.76 L618.03,653.77 L618.95,653.79 L619.86,653.80 L620.78,653.81 L621.69,653.82 L622.60,653.83 L623.52,653.85 L624.43,653.86 L625.34,653.87 L626.26,653.88 L627.17,653.89 L628.09,653.91 L629.00,653.92 L629.91,653.93 L630.83,653.94 L631.74,653.95 L632.66,653.96 L633.57,653.97 L634.48,653.98 L635.40,654.00 L636.31,654.01 L637.22,654.02 L638.14,654.03 L639.05,654.04 L639.97,654.05 L640.88,654.06 L641.79,654.07 L642.71,654.08 L643.62,654.09 L644.53,654.10 L645.45,654.11 L646.36,654.12 L647.28,654.13 L648.19,654.14 L649.10,654.15 L650.02,654.16 L650.93,654.17 L651.84,654.18 L652.76,654.19 L653.67,654.20 L654.59,654.21 L655.50,654.22 L656.41,654.23 L657.33,654.24 L658.24,654.25 L659.16,654.26 L660.07,654.27 L660.98,654.28 L661.90,654.29 L662.81,654.30 L663.72,654.31 L664.64,654.32 L665.55,654.32 L666.47,654.33 L667.38,654.34 L668.29,654.35 L669.21,654.36 L670.12,654.37 L671.03,654.38 L671.95,654.38 L672.86,654.39 L673.78,654.40 L674.69,654.41 L675.60,654.42 L676.52,654.43 L677.43,654.44 L678.34,654.44 L679.26,654.45 L680.17,654.46 L681.09,654.47 L682.00,654.48 L682.91,654.48 L683.83,654.49 L684.74,654.50 L685.66,654.51 L686.57,654.51 L687.48,654.52 L688.40,654.53 L689.31,654.54 L690.22,654.54 L691.14,654.55 L692.05,654.56 L692.97,654.57 L693.88,654.57 L694.79,654.58 L695.71,654.59 L696.62,654.60 L697.53,654.60 L698.45,654.61 L699.36,654.62 L700.28,654.62 L701.19,654.63 L702.10,654.64 L703.02,654.64 L703.93,654.65 L704.84,654.66 L705.76,654.67 L706.67,654.67 L707.59,654.68 L708.50,654.69 L709.41,654.69 L710.33,654.70 L711.24,654.70 L712.16,654.71 L713.07,654.72 L713.98,654.72 L714.90,654.73 L715.81,654.74 L716.72,654.74 L717.64,654.75 L718.55,654.75 L719.47,654.76 L720.38,654.77 L721.29,654.77 L722.21,654.78 L723.12,654.79 L724.03,654.79 L724.95,654.80 L725.86,654.80 L726.78,654.81 L727.69,654.81 L728.60,654.82 L729.52,654.83 L730.43,654.83 L731.34,654.84 L732.26,654.84 L733.17,654.85 L734.09,654.85 L735.00,654.86 L735.91,654.86 L736.83,654.87 L737.74,654.88 L738.66,654.88 L739.57,654.89 L740.48,654.89 L741.40,654.90 L742.31,654.90 L743.22,654.91 L744.14,654.91 L745.05,654.92 L745.97,654.92 L746.88,654.93 L747.79,654.93 L748.71,654.94 L749.62,654.94 L750.53,654.95 L751.45,654.95 L752.36,654.96 L753.28,654.96 L754.19,654.97 L755.10,654.97 L756.02,654.98 L756.93,654.98 L757.84,654.98 L758.76,654.99 L759.67,654.99 L760.59,655.00 L761.50,655.00 L762.41,655.01 L763.33,655.01 L764.24,655.02 L765.16,655.02 L766.07,655.03 L766.98,655.03 L767.90,655.03 L768.81,655.04 L769.72,655.04 L770.64,655.05 L771.55,655.05 L772.47,655.06 L773.38,655.06 L774.29,655.06 L775.21,655.07 L776.12,655.07 L777.03,655.08 L777.95,655.08 L778.86,655.08 L779.78,655.09 L780.69,655.09 L781.60,655.10 L782.52,655.10 L783.43,655.10 L784.34,655.11 L785.26,655.11 L786.17,655.11 L787.09,655.12 L788.00,655.12 L788.91,655.13 L789.83,655.13 L790.74,655.13 L791.66,655.14 L792.57,655.14 L793.48,655.14 L794.40,655.15 L795.31,655.15 L796.22,655.16 L797.14,655.16 L798.05,655.16 L798.97,655.17 L799.88,655.17 L800.79,655.17 L801.71,655.18 L802.62,655.18 L803.53,655.18 L804.45,655.19 L805.36,655.19 L806.28,655.19 L807.19,655.20 L808.10,655.20 L809.02,655.20 L809.93,655.21 L810.84,655.21 L811.76,655.21 L812.67,655.22 L813.59,655.22 L814.50,655.22 L815.41,655.22 L816.33,655.23 L817.24,655.23 L818.16,655.23 L819.07,655.24 L819.98,655.24 L820.90,655.24 L821.81,655.25 L822.72,655.25 L823.64,655.25 L824.55,655.25 L825.47,655.26 L826.38,655.26 L827.29,655.26 L828.21,655.27 L829.12,655.27 L830.03,655.27 L830.95,655.27 L831.86,655.28 L832.78,655.28 L833.69,655.28 L834.60,655.28 L835.52,655.29 L836.43,655.29 L837.34,655.29 L838.26,655.30 L839.17,655.30 L840.09,655.30 L841.00,655.30 L841.91,655.31 L842.83,655.31 L843.74,655.31 L844.66,655.31 L845.57,655.32 L846.48,655.32 L847.40,655.32 L848.31,655.32 L849.22,655.33 L850.14,655.33 L851.05,655.33 L851.97,655.33 L852.88,655.34 L853.79,655.34 L854.71,655.34 L855.62,655.34 L856.53,655.34 L857.45,655.35 L858.36,655.35 L859.28,655.35 L860.19,655.35 L861.10,655.36 L862.02,655.36 L862.93,655.36 L863.84,655.36 L864.76,655.36 L865.67,655.37 L866.59,655.37 L867.50,655.37 L868.41,655.37 L869.33,655.38 L870.24,655.38 L871.16,655.38 L872.07,655.38 L872.98,655.38 L873.90,655.39 L874.81,655.39 L875.72,655.39 L876.64,655.39 L877.55,655.39 L878.47,655.40 L879.38,655.40 L880.29,655.40 L881.21,655.40 L882.12,655.40 L883.03,655.41 L883.95,655.41 L884.86,655.41 L885.78,655.41 L886.69,655.41 L887.60,655.41 L888.52,655.42 L889.43,655.42 L890.34,655.42 L891.26,655.42 L892.17,655.42 L893.09,655.43 L894.00,655.43 L894.91,655.43 L895.83,655.43 L896.74,655.43 L897.66,655.43 L898.57,655.44 L899.48,655.44 L900.40,655.44 L901.31,655.44 L902.22,655.44 L903.14,655.44 L904.05,655.45 L904.97,655.45 L905.88,655.45 L906.79,655.45 L907.71,655.45 L908.62,655.45 L909.53,655.46 L910.45,655.46 L911.36,655.46 L912.28,655.46 L913.19,655.46 L914.10,655.46 L915.02,655.47 L915.93,655.47 L916.84,655.47 L917.76,655.47 L918.67,655.47 L919.59,655.47 L920.50,655.47 L921.41,655.48 L922.33,655.48 L923.24,655.48 L924.16,655.48 L925.07,655.48 L925.98,655.48 L926.90,655.48 L927.81,655.49 L928.72,655.49 L929.64,655.49 L930.55,655.49 L931.47,655.49 L932.38,655.49 L933.29,655.49 L934.21,655.50 L935.12,655.50 L936.03,655.50 L936.95,655.50 L937.86,655.50 L938.78,655.50 L939.69,655.50 L940.60,655.50 L941.52,655.51 L942.43,655.51 L943.34,655.51 L944.26,655.51 L945.17,655.51 L946.09,655.51 L947.00,655.51 L947.91,655.51 L948.83,655.52 L949.74,655.52 L950.66,655.52 L951.57,655.52 L952.48,655.52 L953.40,655.52 L954.31,655.52 L955.22,655.52 L956.14,655.52 L957.05,655.53 L957.97,655.53 L958.88,655.53 L959.79,655.53 L960.71,655.53 L961.62,655.53 L962.53,655.53 L963.45,655.53 L964.36,655.53 L965.28,655.54 L966.19,655.54 L967.10,655.54 L968.02,655.54 L968.93,655.54 L969.84,655.54 L970.76,655.54 L971.67,655.54 L972.59,655.54 L973.50,655.54 L974.41,655.55 L975.33,655.55 L976.24,655.55 L977.16,655.55 L978.07,655.55 L978.98,655.55 L979.90,655.55 L980.81,655.55 L981.72,655.55 L982.64,655.55 L983.55,655.56 L984.47,655.56 L985.38,655.56 L986.29,655.56 L987.21,655.56 L988.12,655.56 L989.03,655.56 L989.95,655.56 L990.86,655.56 L991.78,655.56 L992.69,655.56 L993.60,655.57 L994.52,655.57 L995.43,655.57 L996.34,655.57 L997.26,655.57 L998.17,655.57 L999.09,655.57 L1000.00,655.57" stroke="#0a46ff" stroke-width="2.8"/>
<path d="M121.65,654.36 L122.17,654.33 L122.70,654.30 L123.22,654.27 L123.74,654.25 L124.27,654.22 L124.79,654.19 L125.32,654.16 L125.84,654.13 L126.37,654.09 L126.90,654.06 L127.42,654.03 L127.95,654.00 L128.48,653.96 L129.01,653.93 L129.54,653.89 L130.07,653.86 L130.60,653.82 L131.13,653.78 L131.66,653.74 L132.19,653.70 L132.72,653.66 L133.25,653.62 L133.78,653.58 L134.31,653.54 L134.84,653.50 L135.37,653.45 L135.91,653.41 L136.44,653.36 L136.97,653.31 L137.50,653.27 L138.04,653.22 L138.57,653.17 L139.10,653.12 L139.64,653.07 L140.17,653.01 L140.70,652.96 L141.24,652.91 L141.77,652.85 L142.31,652.79 L142.84,652.74 L143.37,652.68 L143.91,652.62 L144.44,652.55 L144.98,652.49 L145.51,652.43 L146.05,652.36 L146.58,652.30 L147.12,652.23 L147.65,652.16 L148.18,652.09 L148.72,652.02 L149.25,651.94 L149.79,651.87 L150.32,651.79 L150.86,651.71 L151.39,651.63 L151.92,651.55 L152.46,651.47 L152.99,651.39 L153.53,651.30 L154.06,651.21 L154.59,651.12 L155.13,651.03 L155.66,650.94 L156.19,650.84 L156.73,650.75 L157.26,650.65 L157.79,650.55 L158.32,650.44 L158.85,650.34 L159.39,650.23 L159.92,650.12 L160.45,650.01 L160.98,649.90 L161.51,649.78 L162.04,649.66 L162.57,649.54 L163.10,649.42 L163.63,649.29 L164.16,649.16 L164.69,649.03 L165.21,648.90 L165.74,648.76 L166.27,648.63 L166.80,648.48 L167.32,648.34 L167.85,648.19 L168.37,648.04 L168.90,647.89 L169.42,647.73 L169.95,647.57 L170.47,647.41 L170.99,647.24 L171.52,647.07 L172.04,646.90 L172.56,646.73 L173.08,646.55 L173.60,646.36 L174.12,646.17 L174.64,645.98 L175.16,645.79 L175.68,645.59 L176.20,645.39 L176.72,645.18 L177.23,644.97 L177.75,644.75 L178.27,644.53 L178.78,644.31 L179.30,644.08 L179.82,643.85 L180.34,643.61 L180.85,643.36 L181.37,643.12 L181.89,642.86 L182.40,642.61 L182.92,642.34 L183.44,642.07 L183.96,641.80 L184.48,641.52 L185.00,641.24 L185.52,640.95 L186.04,640.65 L186.56,640.35 L187.08,640.04 L187.61,639.73 L188.13,639.41 L188.66,639.08 L189.18,638.75 L189.71,638.41 L190.24,638.06 L190.77,637.71 L191.30,637.35 L191.83,636.99 L192.36,636.61 L192.90,636.23 L193.44,635.84 L193.97,635.45 L194.51,635.04 L195.06,634.63 L195.60,634.21 L196.14,633.79 L196.69,633.35 L197.24,632.91 L197.79,632.46 L198.34,632.00 L198.89,631.53 L199.45,631.05 L200.01,630.56 L200.57,630.07 L201.13,629.56 L201.70,629.05 L202.27,628.52 L202.84,627.99 L203.41,627.44 L203.99,626.89 L204.56,626.32 L205.14,625.75 L205.73,625.16 L206.31,624.56 L206.90,623.96 L207.50,623.34 L208.09,622.71 L208.69,622.07 L209.29,621.41 L209.89,620.75 L210.50,620.07 L211.11,619.38 L211.73,618.68 L212.34,617.96 L212.96,617.24 L213.59,616.50 L214.21,615.74 L214.84,614.97 L215.47,614.19 L216.10,613.40 L216.74,612.59 L217.38,611.76 L218.02,610.92 L218.66,610.07 L219.31,609.19 L219.95,608.31 L220.60,607.40 L221.25,606.48 L221.90,605.55 L222.56,604.59 L223.21,603.62 L223.87,602.63 L224.53,601.62 L225.19,600.60 L225.85,599.55 L226.52,598.49 L227.18,597.40 L227.85,596.30 L228.52,595.17 L229.19,594.03 L229.86,592.87 L230.54,591.69 L231.22,590.48 L231.91,589.26 L232.60,588.02 L233.30,586.76 L234.00,585.48 L234.71,584.18 L235.42,582.87 L236.14,581.53 L236.86,580.18 L237.60,578.80 L238.34,577.41 L239.08,576.01 L239.84,574.58 L240.60,573.14 L241.38,571.68 L242.16,570.21 L242.95,568.71 L243.75,567.21 L244.56,565.69 L245.38,564.15 L246.22,562.61 L247.06,561.05 L247.92,559.47 L248.79,557.89 L249.67,556.29 L250.57,554.69 L251.47,553.08 L252.40,551.45 L253.33,549.83 L254.29,548.19 L255.25,546.55 L256.24,544.91 L257.24,543.26 L258.25,541.61 L259.28,539.96 L260.33,538.31 L261.40,536.66 L262.49,535.02 L263.59,533.40 L264.71,531.82 L265.85,530.28 L267.01,528.80 L268.19,527.40 L269.39,526.09 L270.60,524.89 L271.83,523.81 L273.09,522.87 L274.36,522.09 L275.65,521.47 L276.96,521.03 L278.28,520.77 L279.61,520.69 L280.94,520.79 L282.27,521.06 L283.59,521.51 L284.89,522.12 L286.17,522.90 L287.43,523.83 L288.65,524.92 L289.84,526.16 L290.99,527.54 L292.11,529.05 L293.18,530.66 L294.22,532.36 L295.22,534.13 L296.20,535.96 L297.15,537.82 L298.07,539.71 L298.98,541.60 L299.86,543.49 L300.72,545.37 L301.56,547.23 L302.39,549.08 L303.19,550.92 L303.98,552.73 L304.76,554.54 L305.51,556.32 L306.25,558.09 L306.97,559.84 L307.68,561.57 L308.37,563.29 L309.05,564.98 L309.71,566.66 L310.36,568.31 L310.99,569.94 L311.61,571.56 L312.22,573.15 L312.81,574.72 L313.39,576.27 L313.96,577.80 L314.48,579.41 L314.67,579.90 L314.86,580.40 L315.05,580.89 L315.24,581.39 L315.43,581.89 L315.62,582.39 L315.80,582.89 L315.99,583.39 L316.18,583.89 L316.36,584.39 L316.55,584.89 L316.73,585.40 L316.92,585.90 L317.10,586.40 L317.29,586.91 L317.47,587.41 L317.66,587.92 L317.84,588.43 L318.03,588.93 L318.21,589.44 L318.39,589.95 L318.58,590.46 L318.76,590.97 L318.94,591.48 L319.13,591.99 L319.31,592.50 L319.49,593.01 L319.68,593.52 L319.86,594.03 L320.05,594.54 L320.23,595.05 L320.41,595.57 L320.60,596.08 L320.78,596.59 L320.97,597.10 L321.15,597.62 L321.34,598.13 L321.52,598.64 L321.71,599.16 L321.90,599.67 L322.09,600.18 L322.27,600.69 L322.46,601.21 L322.65,601.72 L322.84,602.23 L323.03,602.75 L323.22,603.26 L323.41,603.77 L323.60,604.29 L323.79,604.80 L323.99,605.31 L324.18,605.82 L324.38,606.33 L324.57,606.85 L324.77,607.36 L324.96,607.87 L325.16,608.38 L325.36,608.89 L325.56,609.40 L325.76,609.91 L325.96,610.42 L326.16,610.93 L326.37,611.43 L326.57,611.94 L326.78,612.45 L326.98,612.95 L327.19,613.46 L327.40,613.97 L327.61,614.47 L327.82,614.98 L328.04,615.48 L328.25,615.98 L328.46,616.48 L328.68,616.99 L328.90,617.49 L329.12,617.99 L329.34,618.49 L329.56,618.98 L329.78,619.48 L330.01,619.98 L330.23,620.47 L330.46,620.97 L330.69,621.46 L330.92,621.96 L331.15,622.45 L331.39,622.94 L331.62,623.43 L331.86,623.92 L332.10,624.41 L332.34,624.89 L332.58,625.38 L332.83,625.86 L333.07,626.35 L333.32,626.83 L333.57,627.31 L333.82,627.79 L334.08,628.27 L334.33,628.75 L334.59,629.22 L334.85,629.70 L335.11,630.17 L335.37,630.64 L335.64,631.11 L335.91,631.58 L336.18,632.05 L336.45,632.52 L336.72,632.98 L337.00,633.45 L337.28,633.91 L337.56,634.37 L337.84,634.83 L338.13,635.28 L338.42,635.74 L338.71,636.19 L339.00,636.65 L339.29,637.10 L339.59,637.55 L339.89,637.99 L340.19,638.44 L340.50,638.88 L340.81,639.33 L341.12,639.77 L341.43,640.20 L341.74,640.64 L342.06,641.08 L342.38,641.51 L342.71,641.94 L343.03,642.37 L343.36,642.80 L343.69,643.22 L344.02,643.64 L344.36,644.07 L344.70,644.49 L345.04,644.91 L345.38,645.32 L345.72,645.74 L346.07,646.16 L346.42,646.57 L346.77,646.98 L347.12,647.39 L347.47,647.80 L347.82,648.21 L348.18,648.62 L348.54,649.03 L348.90,649.43 L349.26,649.84 L349.62,650.24 L349.98,650.65 L350.34,651.05 L350.71,651.45 L351.07,651.85 L351.44,652.26 L351.81,652.66 L352.17,653.06 L352.54,653.46 L352.91,653.86 L353.28,654.26 L353.65,654.66 L354.02,655.06 L354.39,655.46 L354.76,655.85 L355.13,656.25 L355.50,656.65 L355.87,657.05 L356.24,657.45 L356.61,657.85 L356.97,658.25 L357.34,658.66 L357.71,659.06 L358.08,659.46 L358.45,659.86 L358.81,660.26 L359.18,660.67 L359.54,661.07 L359.91,661.48 L360.27,661.88 L360.63,662.29 L360.99,662.70 L361.35,663.11 L361.71,663.52 L362.07,663.93 L362.42,664.34 L362.78,664.75 L363.13,665.17 L363.48,665.59 L363.83,666.00 L364.18,666.42 L364.52,666.84 L364.87,667.27 L365.21,667.69 L365.55,668.11 L365.88,668.54 L366.22,668.97 L366.55,669.40 L366.88,669.83 L367.21,670.27 L367.53,670.71 L367.85,671.14 L368.17,671.59 L368.49,672.03 L368.80,672.47 L369.12,672.92 L369.42,673.37 L369.73,673.82 L370.03,674.27 L370.34,674.73 L370.63,675.19 L370.93,675.65 L371.22,676.11 L371.51,676.57 L371.80,677.03 L372.09,677.50 L372.37,677.96 L372.65,678.43 L372.93,678.90 L373.21,679.37 L373.48,679.85 L373.76,680.32 L374.03,680.80 L374.30,681.27 L374.56,681.75 L374.83,682.23 L375.09,682.71 L375.35,683.19 L375.61,683.67 L375.86,684.16 L376.12,684.64 L376.37,685.12 L376.62,685.61 L376.87,686.10 L377.12,686.58 L377.36,687.07 L377.61,687.56 L377.85,688.05 L378.09,688.54 L378.33,689.03 L378.57,689.52 L378.80,690.01 L379.04,690.50 L379.27,690.99 L379.50,691.48 L379.73,691.98 L379.96,692.47 L380.19,692.96 L380.41,693.45 L380.64,693.94 L380.86,694.44 L381.08,694.93 L381.30,695.42 L381.52,695.91 L381.74,696.40 L381.96,696.89 L382.18,697.39 L382.39,697.88 L382.61,698.37 L382.82,698.86 L383.03,699.35 L383.24,699.83 L383.46,700.32 L383.67,700.81 L383.88,701.30 L384.08,701.78 L384.29,702.27 L384.50,702.76 L384.71,703.24 L384.92,703.73 L385.12,704.21 L385.33,704.70 L385.53,705.19 L385.74,705.67 L385.95,706.16 L386.15,706.65 L386.36,707.13 L386.57,707.62 L386.77,708.11 L386.98,708.60 L387.19,709.09 L387.40,709.58 L387.60,710.07 L387.81,710.57 L388.02,711.06 L388.23,711.56 L388.45,712.05 L388.66,712.55 L388.87,713.05 L389.09,713.55 L389.30,714.05 L389.52,714.56 L389.74,715.06 L389.96,715.57 L390.18,716.08 L390.40,716.59 L390.62,717.10 L390.85,717.62 L391.07,718.14 L391.30,718.65 L391.53,719.18 L391.77,719.70 L392.00,720.23 L392.24,720.76 L392.47,721.29 L392.71,721.82 L392.96,722.36 L393.20,722.90 L393.45,723.44 L393.70,723.98 L393.96,724.52 L394.21,725.06 L394.48,725.59 L394.74,726.12 L395.01,726.65 L395.29,727.16 L395.57,727.67 L395.86,728.17 L396.16,728.66 L396.46,729.13 L396.77,729.60 L397.08,730.05 L397.41,730.48 L397.74,730.90 L398.08,731.30 L398.42,731.68 L398.78,732.04 L399.15,732.38 L399.53,732.70 L399.91,733.00 L400.31,733.27 L400.72,733.51 L401.14,733.73 L401.57,733.92 L402.01,734.08 L402.46,734.21 L402.93,734.31 L403.40,734.38 L403.88,734.42 L404.37,734.42 L404.85,734.40 L405.34,734.34 L405.83,734.25 L406.31,734.13 L406.79,733.98 L407.25,733.80 L407.71,733.58 L408.15,733.33 L408.58,733.05 L409.00,732.74 L409.40,732.40 L409.78,732.04 L410.15,731.64 L410.51,731.23 L410.86,730.80 L411.20,730.35 L411.53,729.89 L411.84,729.41 L412.15,728.92 L412.45,728.43 L412.75,727.93 L413.03,727.43 L413.32,726.92 L413.59,726.42 L413.86,725.91 L414.13,725.41 L414.39,724.91 L414.64,724.41 L414.90,723.91 L415.14,723.41 L415.39,722.91 L415.62,722.42 L415.86,721.92 L416.09,721.42 L416.32,720.92 L416.54,720.43 L416.76,719.93 L416.98,719.43 L417.19,718.94 L417.40,718.44 L417.61,717.94 L417.81,717.45 L418.01,716.95 L418.21,716.45 L418.41,715.95 L418.60,715.45 L418.80,714.95 L418.99,714.45 L419.17,713.95 L419.36,713.45 L419.55,712.94 L419.73,712.44 L419.91,711.93 L420.09,711.42 L420.27,710.91 L420.45,710.40 L420.62,709.89 L420.80,709.38 L420.97,708.87 L421.15,708.35 L421.32,707.84 L421.49,707.32 L421.66,706.81 L421.83,706.29 L422.00,705.77 L422.17,705.25 L422.34,704.73 L422.51,704.21 L422.68,703.69 L422.85,703.17 L423.01,702.65 L423.18,702.13 L423.35,701.61 L423.52,701.08 L423.68,700.56 L423.85,700.04 L424.02,699.51 L424.18,698.99 L424.35,698.47 L424.52,697.95 L424.69,697.42 L424.86,696.90 L425.03,696.38 L425.20,695.85 L425.37,695.33 L425.54,694.81 L425.71,694.29 L425.89,693.77 L426.06,693.24 L426.23,692.72 L426.41,692.20 L426.59,691.68 L426.77,691.16 L426.95,690.65 L427.13,690.13 L427.31,689.61 L427.49,689.09 L427.68,688.58 L427.86,688.06 L428.05,687.55 L428.24,687.04 L428.43,686.53 L428.63,686.02 L428.82,685.51 L429.02,685.00 L429.22,684.49 L429.42,683.98 L429.62,683.48 L429.83,682.98 L430.04,682.47 L430.25,681.97 L430.46,681.47 L430.68,680.98 L430.89,680.48 L431.11,679.98 L431.34,679.49 L431.56,679.00 L431.79,678.51 L432.02,678.02 L432.26,677.54 L432.49,677.05 L432.73,676.57 L432.98,676.09 L433.22,675.61 L433.47,675.14 L433.73,674.66 L433.98,674.19 L434.24,673.72 L434.51,673.25 L434.77,672.79 L435.04,672.33 L435.32,671.87 L435.59,671.41 L435.88,670.95 L436.16,670.50 L436.45,670.05 L436.74,669.60 L437.04,669.16 L437.34,668.72 L437.65,668.28 L437.96,667.84 L438.27,667.41 L438.59,666.97 L438.91,666.55 L439.24,666.12 L439.57,665.70 L439.91,665.28 L440.25,664.86 L440.60,664.45 L440.95,664.04 L441.31,663.64 L441.67,663.23 L442.03,662.83 L442.40,662.44 L442.78,662.05 L443.16,661.66 L443.55,661.27 L443.94,660.89 L444.34,660.51 L444.74,660.14 L445.15,659.77 L445.56,659.40 L445.98,659.03 L449.70,657.60 L453.50,656.70 L457.50,656.25 L463.00,656.00 L1000.00,655.90" stroke="#0a46ff" stroke-width="2.6" stroke-dasharray="2.6 5.4"/>
<path d="M325.00,362.45 L325.43,366.63 L325.87,370.76 L326.30,374.83 L326.74,378.85 L327.17,382.80 L327.60,386.70 L328.04,390.54 L328.47,394.33 L328.91,398.06 L329.34,401.74 L329.78,405.37 L330.21,408.95 L330.64,412.47 L331.08,415.94 L331.51,419.37 L331.95,422.75 L332.38,426.07 L332.81,429.35 L333.25,432.59 L333.68,435.77 L334.12,438.91 L334.55,442.01 L334.98,445.06 L335.42,448.07 L335.85,451.04 L336.29,453.96 L336.72,456.84 L337.16,459.68 L337.59,462.48 L338.02,465.24 L338.46,467.96 L338.89,470.65 L339.33,473.29 L339.76,475.89 L340.19,478.46 L340.63,480.99 L341.06,483.49 L341.50,485.95 L341.93,488.37 L342.36,490.76 L342.80,493.12 L343.23,495.44 L343.67,497.73 L344.10,499.99 L344.53,502.21 L344.97,504.41 L345.40,506.57 L345.84,508.70 L346.27,510.80 L346.71,512.87 L347.14,514.91 L347.57,516.92 L348.01,518.90 L348.44,520.85 L348.88,522.78 L349.31,524.68 L349.74,526.55 L350.18,528.40 L350.61,530.21 L351.05,532.01 L351.48,533.77 L351.91,535.51 L352.35,537.23 L352.78,538.92 L353.22,540.59 L353.65,542.24 L354.09,543.86 L354.52,545.45 L354.95,547.03 L355.39,548.58 L355.82,550.11 L356.26,551.62 L356.69,553.11 L357.12,554.57 L357.56,556.02 L357.99,557.44 L358.43,558.84 L358.86,560.23 L359.29,561.59 L359.73,562.94 L360.16,564.26 L360.60,565.57 L361.03,566.85 L361.47,568.12 L361.90,569.37 L362.33,570.61 L362.77,571.82 L363.20,573.02 L363.64,574.20 L364.07,575.37 L364.50,576.51 L364.94,577.64 L365.37,578.76 L365.81,579.86 L366.24,580.94 L366.67,582.01 L367.11,583.06 L367.54,584.10 L367.98,585.12 L368.41,586.13 L368.84,587.12 L369.28,588.10 L369.71,589.07 L370.15,590.02 L370.58,590.96 L371.02,591.88 L371.45,592.80 L371.88,593.69 L372.32,594.58 L372.75,595.45 L373.19,596.31 L373.62,597.16 L374.05,598.00 L374.49,598.82 L374.92,599.63 L375.36,600.44 L375.79,601.22 L376.22,602.00 L376.66,602.77 L377.09,603.53 L377.53,604.27 L377.96,605.01 L378.40,605.73 L378.83,606.44 L379.26,607.15 L379.70,607.84 L380.13,608.52 L380.57,609.20 L381.00,609.86 L381.43,610.52 L381.87,611.16 L382.30,611.80 L382.74,612.43 L383.17,613.04 L383.60,613.65 L384.04,614.25 L384.47,614.85 L384.91,615.43 L385.34,616.00 L385.78,616.57 L386.21,617.13 L386.64,617.68 L387.08,618.22 L387.51,618.76 L387.95,619.29 L388.38,619.81 L388.81,620.32 L389.25,620.83 L389.68,621.32 L390.12,621.82 L390.55,622.30 L390.98,622.78 L391.42,623.25 L391.85,623.71 L392.29,624.17 L392.72,624.62 L393.16,625.06 L393.59,625.50 L394.02,625.93 L394.46,626.36 L394.89,626.77 L395.33,627.19 L395.76,627.60 L396.19,628.00 L396.63,628.39 L397.06,628.78 L397.50,629.17 L397.93,629.55 L398.36,629.92 L398.80,630.29 L399.23,630.65 L399.67,631.01 L400.10,631.36 L400.53,631.71 L400.97,632.05 L401.40,632.39 L401.84,632.72 L402.27,633.05 L402.71,633.37 L403.14,633.69 L403.57,634.01 L404.01,634.32 L404.44,634.62 L404.88,634.92 L405.31,635.22 L405.74,635.51 L406.18,635.80 L406.61,636.09 L407.05,636.37 L407.48,636.64 L407.91,636.91 L408.35,637.18 L408.78,637.45 L409.22,637.71 L409.65,637.96 L410.09,638.22 L410.52,638.47 L410.95,638.71 L411.39,638.96 L411.82,639.20 L412.26,639.43 L412.69,639.66 L413.12,639.89 L413.56,640.12 L413.99,640.34 L414.43,640.56 L414.86,640.78 L415.29,640.99 L415.73,641.20 L416.16,641.41 L416.60,641.61 L417.03,641.81 L417.47,642.01 L417.90,642.21 L418.33,642.40 L418.77,642.59 L419.20,642.78 L419.64,642.96 L420.07,643.14 L420.50,643.32 L420.94,643.50 L421.37,643.67 L421.81,643.85 L422.24,644.01 L422.67,644.18 L423.11,644.35 L423.54,644.51 L423.98,644.67 L424.41,644.83 L424.84,644.98 L425.28,645.13 L425.71,645.29 L426.15,645.43 L426.58,645.58 L427.02,645.73 L427.45,645.87 L427.88,646.01 L428.32,646.15 L428.75,646.28 L429.19,646.42 L429.62,646.55 L430.05,646.68 L430.49,646.81 L430.92,646.94 L431.36,647.06 L431.79,647.19 L432.22,647.31 L432.66,647.43 L433.09,647.54 L433.53,647.66 L433.96,647.78 L434.40,647.89 L434.83,648.00 L435.26,648.11 L435.70,648.22 L436.13,648.33 L436.57,648.43 L437.00,648.54 L437.92,648.58 L438.84,648.63 L439.76,648.67 L440.67,648.72 L441.59,648.76 L442.51,648.80 L443.43,648.85 L444.35,648.89 L445.27,648.93 L446.18,648.98 L447.10,649.02 L448.02,649.06 L448.94,649.10 L449.86,649.15 L450.78,649.19 L451.69,649.23 L452.61,649.27 L453.53,649.31 L454.45,649.35 L455.37,649.39 L456.29,649.43 L457.21,649.47 L458.12,649.51 L459.04,649.55 L459.96,649.59 L460.88,649.63 L461.80,649.66 L462.72,649.70 L463.63,649.74 L464.55,649.78 L465.47,649.82 L466.39,649.85 L467.31,649.89 L468.23,649.93 L469.15,649.96 L470.06,650.00 L470.98,650.04 L471.90,650.07 L472.82,650.11 L473.74,650.14 L474.66,650.18 L475.57,650.21 L476.49,650.25 L477.41,650.28 L478.33,650.32 L479.25,650.35 L480.17,650.38 L481.08,650.42 L482.00,650.45 L482.92,650.48 L483.84,650.52 L484.76,650.55 L485.68,650.58 L486.60,650.62 L487.51,650.65 L488.43,650.68 L489.35,650.71 L490.27,650.74 L491.19,650.77 L492.11,650.81 L493.02,650.84 L493.94,650.87 L494.86,650.90 L495.78,650.93 L496.70,650.96 L497.62,650.99 L498.54,651.02 L499.45,651.05 L500.37,651.08 L501.29,651.11 L502.21,651.14 L503.13,651.17 L504.05,651.19 L504.96,651.22 L505.88,651.25 L506.80,651.28 L507.72,651.31 L508.64,651.33 L509.56,651.36 L510.47,651.39 L511.39,651.42 L512.31,651.44 L513.23,651.47 L514.15,651.50 L515.07,651.52 L515.99,651.55 L516.90,651.58 L517.82,651.60 L518.74,651.63 L519.66,651.66 L520.58,651.68 L521.50,651.71 L522.41,651.73 L523.33,651.76 L524.25,651.78 L525.17,651.81 L526.09,651.83 L527.01,651.86 L527.92,651.88 L528.84,651.90 L529.76,651.93 L530.68,651.95 L531.60,651.98 L532.52,652.00 L533.44,652.02 L534.35,652.05 L535.27,652.07 L536.19,652.09 L537.11,652.11 L538.03,652.14 L538.95,652.16 L539.86,652.18 L540.78,652.20 L541.70,652.23 L542.62,652.25 L543.54,652.27 L544.46,652.29 L545.38,652.31 L546.29,652.34 L547.21,652.36 L548.13,652.38 L549.05,652.40 L549.97,652.42 L550.89,652.44 L551.80,652.46 L552.72,652.48 L553.64,652.50 L554.56,652.52 L555.48,652.54 L556.40,652.56 L557.31,652.58 L558.23,652.60 L559.15,652.62 L560.07,652.64 L560.99,652.66 L561.91,652.68 L562.83,652.70 L563.74,652.72 L564.66,652.74 L565.58,652.76 L566.50,652.77 L567.42,652.79 L568.34,652.81 L569.25,652.83 L570.17,652.85 L571.09,652.87 L572.01,652.88 L572.93,652.90 L573.85,652.92 L574.77,652.94 L575.68,652.95 L576.60,652.97 L577.52,652.99 L578.44,653.01 L579.36,653.02 L580.28,653.04 L581.19,653.06 L582.11,653.07 L583.03,653.09 L583.95,653.11 L584.87,653.12 L585.79,653.14 L586.70,653.16 L587.62,653.17 L588.54,653.19 L589.46,653.20 L590.38,653.22 L591.30,653.24 L592.22,653.25 L593.13,653.27 L594.05,653.28 L594.97,653.30 L595.89,653.31 L596.81,653.33 L597.73,653.34 L598.64,653.36 L599.56,653.37 L600.48,653.39 L601.40,653.40 L602.32,653.42 L603.24,653.43 L604.15,653.45 L605.07,653.46 L605.99,653.47 L606.91,653.49 L607.83,653.50 L608.75,653.52 L609.67,653.53 L610.58,653.54 L611.50,653.56 L612.42,653.57 L613.34,653.58 L614.26,653.60 L615.18,653.61 L616.09,653.62 L617.01,653.64 L617.93,653.65 L618.85,653.66 L619.77,653.68 L620.69,653.69 L621.61,653.70 L622.52,653.71 L623.44,653.73 L624.36,653.74 L625.28,653.75 L626.20,653.76 L627.12,653.78 L628.03,653.79 L628.95,653.80 L629.87,653.81 L630.79,653.82 L631.71,653.84 L632.63,653.85 L633.54,653.86 L634.46,653.87 L635.38,653.88 L636.30,653.89 L637.22,653.91 L638.14,653.92 L639.06,653.93 L639.97,653.94 L640.89,653.95 L641.81,653.96 L642.73,653.97 L643.65,653.98 L644.57,654.00 L645.48,654.01 L646.40,654.02 L647.32,654.03 L648.24,654.04 L649.16,654.05 L650.08,654.06 L651.00,654.07 L651.91,654.08 L652.83,654.09 L653.75,654.10 L654.67,654.11 L655.59,654.12 L656.51,654.13 L657.42,654.14 L658.34,654.15 L659.26,654.16 L660.18,654.17 L661.10,654.18 L662.02,654.19 L662.93,654.20 L663.85,654.21 L664.77,654.22 L665.69,654.23 L666.61,654.24 L667.53,654.25 L668.45,654.25 L669.36,654.26 L670.28,654.27 L671.20,654.28 L672.12,654.29 L673.04,654.30 L673.96,654.31 L674.87,654.32 L675.79,654.33 L676.71,654.33 L677.63,654.34 L678.55,654.35 L679.47,654.36 L680.38,654.37 L681.30,654.38 L682.22,654.39 L683.14,654.39 L684.06,654.40 L684.98,654.41 L685.90,654.42 L686.81,654.43 L687.73,654.44 L688.65,654.44 L689.57,654.45 L690.49,654.46 L691.41,654.47 L692.32,654.47 L693.24,654.48 L694.16,654.49 L695.08,654.50 L696.00,654.51 L696.92,654.51 L697.84,654.52 L698.75,654.53 L699.67,654.54 L700.59,654.54 L701.51,654.55 L702.43,654.56 L703.35,654.56 L704.26,654.57 L705.18,654.58 L706.10,654.59 L707.02,654.59 L707.94,654.60 L708.86,654.61 L709.77,654.61 L710.69,654.62 L711.61,654.63 L712.53,654.63 L713.45,654.64 L714.37,654.65 L715.29,654.65 L716.20,654.66 L717.12,654.67 L718.04,654.67 L718.96,654.68 L719.88,654.69 L720.80,654.69 L721.71,654.70 L722.63,654.71 L723.55,654.71 L724.47,654.72 L725.39,654.73 L726.31,654.73 L727.23,654.74 L728.14,654.74 L729.06,654.75 L729.98,654.76 L730.90,654.76 L731.82,654.77 L732.74,654.77 L733.65,654.78 L734.57,654.79 L735.49,654.79 L736.41,654.80 L737.33,654.80 L738.25,654.81 L739.16,654.81 L740.08,654.82 L741.00,654.82 L741.92,654.83 L742.84,654.84 L743.76,654.84 L744.68,654.85 L745.59,654.85 L746.51,654.86 L747.43,654.86 L748.35,654.87 L749.27,654.87 L750.19,654.88 L751.10,654.88 L752.02,654.89 L752.94,654.89 L753.86,654.90 L754.78,654.90 L755.70,654.91 L756.62,654.91 L757.53,654.92 L758.45,654.92 L759.37,654.93 L760.29,654.93 L761.21,654.94 L762.13,654.94 L763.04,654.95 L763.96,654.95 L764.88,654.96 L765.80,654.96 L766.72,654.97 L767.64,654.97 L768.55,654.98 L769.47,654.98 L770.39,654.99 L771.31,654.99 L772.23,654.99 L773.15,655.00 L774.07,655.00 L774.98,655.01 L775.90,655.01 L776.82,655.02 L777.74,655.02 L778.66,655.03 L779.58,655.03 L780.49,655.03 L781.41,655.04 L782.33,655.04 L783.25,655.05 L784.17,655.05 L785.09,655.05 L786.00,655.06 L786.92,655.06 L787.84,655.07 L788.76,655.07 L789.68,655.08 L790.60,655.08 L791.52,655.08 L792.43,655.09 L793.35,655.09 L794.27,655.09 L795.19,655.10 L796.11,655.10 L797.03,655.11 L797.94,655.11 L798.86,655.11 L799.78,655.12 L800.70,655.12 L801.62,655.12 L802.54,655.13 L803.46,655.13 L804.37,655.14 L805.29,655.14 L806.21,655.14 L807.13,655.15 L808.05,655.15 L808.97,655.15 L809.88,655.16 L810.80,655.16 L811.72,655.16 L812.64,655.17 L813.56,655.17 L814.48,655.17 L815.39,655.18 L816.31,655.18 L817.23,655.18 L818.15,655.19 L819.07,655.19 L819.99,655.19 L820.91,655.20 L821.82,655.20 L822.74,655.20 L823.66,655.21 L824.58,655.21 L825.50,655.21 L826.42,655.22 L827.33,655.22 L828.25,655.22 L829.17,655.22 L830.09,655.23 L831.01,655.23 L831.93,655.23 L832.85,655.24 L833.76,655.24 L834.68,655.24 L835.60,655.25 L836.52,655.25 L837.44,655.25 L838.36,655.25 L839.27,655.26 L840.19,655.26 L841.11,655.26 L842.03,655.26 L842.95,655.27 L843.87,655.27 L844.78,655.27 L845.70,655.28 L846.62,655.28 L847.54,655.28 L848.46,655.28 L849.38,655.29 L850.30,655.29 L851.21,655.29 L852.13,655.29 L853.05,655.30 L853.97,655.30 L854.89,655.30 L855.81,655.30 L856.72,655.31 L857.64,655.31 L858.56,655.31 L859.48,655.31 L860.40,655.32 L861.32,655.32 L862.23,655.32 L863.15,655.32 L864.07,655.33 L864.99,655.33 L865.91,655.33 L866.83,655.33 L867.75,655.34 L868.66,655.34 L869.58,655.34 L870.50,655.34 L871.42,655.34 L872.34,655.35 L873.26,655.35 L874.17,655.35 L875.09,655.35 L876.01,655.36 L876.93,655.36 L877.85,655.36 L878.77,655.36 L879.69,655.36 L880.60,655.37 L881.52,655.37 L882.44,655.37 L883.36,655.37 L884.28,655.38 L885.20,655.38 L886.11,655.38 L887.03,655.38 L887.95,655.38 L888.87,655.39 L889.79,655.39 L890.71,655.39 L891.62,655.39 L892.54,655.39 L893.46,655.40 L894.38,655.40 L895.30,655.40 L896.22,655.40 L897.14,655.40 L898.05,655.40 L898.97,655.41 L899.89,655.41 L900.81,655.41 L901.73,655.41 L902.65,655.41 L903.56,655.42 L904.48,655.42 L905.40,655.42 L906.32,655.42 L907.24,655.42 L908.16,655.42 L909.08,655.43 L909.99,655.43 L910.91,655.43 L911.83,655.43 L912.75,655.43 L913.67,655.43 L914.59,655.44 L915.50,655.44 L916.42,655.44 L917.34,655.44 L918.26,655.44 L919.18,655.44 L920.10,655.45 L921.01,655.45 L921.93,655.45 L922.85,655.45 L923.77,655.45 L924.69,655.45 L925.61,655.46 L926.53,655.46 L927.44,655.46 L928.36,655.46 L929.28,655.46 L930.20,655.46 L931.12,655.47 L932.04,655.47 L932.95,655.47 L933.87,655.47 L934.79,655.47 L935.71,655.47 L936.63,655.47 L937.55,655.48 L938.46,655.48 L939.38,655.48 L940.30,655.48 L941.22,655.48 L942.14,655.48 L943.06,655.48 L943.98,655.49 L944.89,655.49 L945.81,655.49 L946.73,655.49 L947.65,655.49 L948.57,655.49 L949.49,655.49 L950.40,655.49 L951.32,655.50 L952.24,655.50 L953.16,655.50 L954.08,655.50 L955.00,655.50 L955.92,655.50 L956.83,655.50 L957.75,655.50 L958.67,655.51 L959.59,655.51 L960.51,655.51 L961.43,655.51 L962.34,655.51 L963.26,655.51 L964.18,655.51 L965.10,655.51 L966.02,655.52 L966.94,655.52 L967.85,655.52 L968.77,655.52 L969.69,655.52 L970.61,655.52 L971.53,655.52 L972.45,655.52 L973.37,655.52 L974.28,655.53 L975.20,655.53 L976.12,655.53 L977.04,655.53 L977.96,655.53 L978.88,655.53 L979.79,655.53 L980.71,655.53 L981.63,655.53 L982.55,655.54 L983.47,655.54 L984.39,655.54 L985.31,655.54 L986.22,655.54 L987.14,655.54 L988.06,655.54 L988.98,655.54 L989.90,655.54 L990.82,655.54 L991.73,655.55 L992.65,655.55 L993.57,655.55 L994.49,655.55 L995.41,655.55 L996.33,655.55 L997.24,655.55 L998.16,655.55 L999.08,655.55 L1000.00,655.55" stroke="#ff0008" stroke-dasharray="12 10.85" stroke-dashoffset="6.60"/>
<path d="M121.90,399.23 L122.34,402.89 L122.77,406.49 L123.21,410.04 L123.65,413.54 L124.08,417.00 L124.52,420.40 L124.96,423.75 L125.40,427.06 L125.83,430.32 L126.27,433.53 L126.71,436.70 L127.14,439.82 L127.58,442.89 L128.02,445.93 L128.45,448.92 L128.89,451.87 L129.33,454.77 L129.77,457.63 L130.20,460.46 L130.64,463.24 L131.08,465.98 L131.51,468.69 L131.95,471.35 L132.39,473.98 L132.82,476.57 L133.26,479.12 L133.70,481.64 L134.13,484.12 L134.57,486.57 L135.01,488.98 L135.45,491.35 L135.88,493.70 L136.32,496.01 L136.76,498.28 L137.19,500.53 L137.63,502.74 L138.07,504.92 L138.50,507.07 L138.94,509.19 L139.38,511.27 L139.81,513.33 L140.25,515.36 L140.69,517.36 L141.13,519.33 L141.56,521.28 L142.00,523.19 L142.44,525.08 L142.87,526.94 L143.31,528.78 L143.75,530.59 L144.18,532.37 L144.62,534.13 L145.06,535.86 L145.50,537.57 L145.93,539.25 L146.37,540.91 L146.81,542.55 L147.24,544.16 L147.68,545.75 L148.12,547.32 L148.55,548.87 L148.99,550.39 L149.43,551.89 L149.86,553.37 L150.30,554.83 L150.74,556.26 L151.18,557.68 L151.61,559.08 L152.05,560.46 L152.49,561.81 L152.92,563.15 L153.36,564.47 L153.80,565.77 L154.23,567.05 L154.67,568.32 L155.11,569.56 L155.54,570.79 L155.98,572.00 L156.42,573.19 L156.86,574.37 L157.29,575.53 L157.73,576.67 L158.17,577.80 L158.60,578.91 L159.04,580.00 L159.48,581.08 L159.91,582.15 L160.35,583.19 L160.79,584.23 L161.23,585.25 L161.66,586.25 L162.10,587.24 L162.54,588.22 L162.97,589.18 L163.41,590.13 L163.85,591.06 L164.28,591.98 L164.72,592.89 L165.16,593.79 L165.59,594.67 L166.03,595.54 L166.47,596.40 L166.91,597.24 L167.34,598.07 L167.78,598.90 L168.22,599.71 L168.65,600.50 L169.09,601.29 L169.53,602.07 L169.96,602.83 L170.40,603.58 L170.84,604.33 L171.28,605.06 L171.71,605.78 L172.15,606.49 L172.59,607.19 L173.02,607.88 L173.46,608.57 L173.90,609.24 L174.33,609.90 L174.77,610.55 L175.21,611.20 L175.64,611.83 L176.08,612.46 L176.52,613.07 L176.96,613.68 L177.39,614.28 L177.83,614.87 L178.27,615.45 L178.70,616.03 L179.14,616.59 L179.58,617.15 L180.01,617.70 L180.45,618.24 L180.89,618.77 L181.32,619.30 L181.76,619.82 L182.20,620.33 L182.64,620.83 L183.07,621.33 L183.51,621.82 L183.95,622.30 L184.38,622.78 L184.82,623.25 L185.26,623.71 L185.69,624.17 L186.13,624.62 L186.57,625.06 L187.01,625.50 L187.44,625.93 L187.88,626.35 L188.32,626.77 L188.75,627.18 L189.19,627.59 L189.63,627.99 L190.06,628.38 L190.50,628.77 L190.94,629.16 L191.37,629.54 L191.81,629.91 L192.25,630.28 L192.69,630.64 L193.12,631.00 L193.56,631.35 L194.00,631.70 L194.43,632.04 L194.87,632.37 L195.31,632.71 L195.74,633.03 L196.18,633.36 L196.62,633.68 L197.06,633.99 L197.49,634.30 L197.93,634.60 L198.37,634.91 L198.80,635.20 L199.24,635.49 L199.68,635.78 L200.11,636.07 L200.55,636.35 L200.99,636.62 L201.42,636.89 L201.86,637.16 L202.30,637.43 L202.74,637.69 L203.17,637.94 L203.61,638.20 L204.05,638.45 L204.48,638.69 L204.92,638.93 L205.36,639.17 L205.79,639.41 L206.23,639.64 L206.67,639.87 L207.10,640.10 L207.54,640.32 L207.98,640.54 L208.42,640.75 L208.85,640.97 L209.29,641.18 L209.73,641.38 L210.16,641.59 L210.60,641.79 L211.04,641.99 L211.47,642.18 L211.91,642.37 L212.35,642.56 L212.79,642.75 L213.22,642.94 L213.66,643.12 L214.10,643.30 L214.53,643.47 L214.97,643.65 L215.41,643.82 L215.84,643.99 L216.28,644.16 L216.72,644.32 L217.15,644.48 L217.59,644.64 L218.03,644.80 L218.47,644.96 L218.90,645.11 L219.34,645.26 L219.78,645.41 L220.21,645.56 L220.65,645.70 L221.09,645.84 L221.52,645.98 L221.96,646.12 L222.40,646.26 L222.83,646.39 L223.27,646.53 L223.71,646.66 L224.15,646.79 L224.58,646.91 L225.02,647.04 L225.46,647.16 L225.89,647.28 L226.33,647.40 L226.77,647.52 L227.20,647.64 L227.64,647.75 L228.08,647.87 L228.52,647.98 L228.95,648.09 L229.39,648.20 L229.83,648.30 L230.26,648.41 L230.70,648.51 L231.62,648.56 L232.53,648.60 L233.45,648.65 L234.37,648.69 L235.28,648.74 L236.20,648.78 L237.12,648.83 L238.04,648.87 L238.95,648.91 L239.87,648.96 L240.79,649.00 L241.70,649.04 L242.62,649.08 L243.54,649.12 L244.45,649.17 L245.37,649.21 L246.29,649.25 L247.20,649.29 L248.12,649.33 L249.04,649.37 L249.96,649.41 L250.87,649.45 L251.79,649.49 L252.71,649.53 L253.62,649.57 L254.54,649.61 L255.46,649.65 L256.37,649.68 L257.29,649.72 L258.21,649.76 L259.12,649.80 L260.04,649.84 L260.96,649.87 L261.88,649.91 L262.79,649.95 L263.71,649.98 L264.63,650.02 L265.54,650.06 L266.46,650.09 L267.38,650.13 L268.29,650.16 L269.21,650.20 L270.13,650.23 L271.04,650.27 L271.96,650.30 L272.88,650.34 L273.80,650.37 L274.71,650.40 L275.63,650.44 L276.55,650.47 L277.46,650.50 L278.38,650.54 L279.30,650.57 L280.21,650.60 L281.13,650.63 L282.05,650.67 L282.96,650.70 L283.88,650.73 L284.80,650.76 L285.72,650.79 L286.63,650.82 L287.55,650.85 L288.47,650.88 L289.38,650.92 L290.30,650.95 L291.22,650.98 L292.13,651.01 L293.05,651.04 L293.97,651.06 L294.88,651.09 L295.80,651.12 L296.72,651.15 L297.64,651.18 L298.55,651.21 L299.47,651.24 L300.39,651.27 L301.30,651.29 L302.22,651.32 L303.14,651.35 L304.05,651.38 L304.97,651.41 L305.89,651.43 L306.80,651.46 L307.72,651.49 L308.64,651.51 L309.56,651.54 L310.47,651.57 L311.39,651.59 L312.31,651.62 L313.22,651.64 L314.14,651.67 L315.06,651.70 L315.97,651.72 L316.89,651.75 L317.81,651.77 L318.72,651.80 L319.64,651.82 L320.56,651.85 L321.48,651.87 L322.39,651.89 L323.31,651.92 L324.23,651.94 L325.14,651.97 L326.06,651.99 L326.98,652.01 L327.89,652.04 L328.81,652.06 L329.73,652.08 L330.64,652.11 L331.56,652.13 L332.48,652.15 L333.40,652.17 L334.31,652.20 L335.23,652.22 L336.15,652.24 L337.06,652.26 L337.98,652.28 L338.90,652.31 L339.81,652.33 L340.73,652.35 L341.65,652.37 L342.56,652.39 L343.48,652.41 L344.40,652.43 L345.32,652.45 L346.23,652.47 L347.15,652.49 L348.07,652.51 L348.98,652.53 L349.90,652.55 L350.82,652.57 L351.73,652.59 L352.65,652.61 L353.57,652.63 L354.48,652.65 L355.40,652.67 L356.32,652.69 L357.24,652.71 L358.15,652.73 L359.07,652.75 L359.99,652.77 L360.90,652.79 L361.82,652.80 L362.74,652.82 L363.65,652.84 L364.57,652.86 L365.49,652.88 L366.40,652.90 L367.32,652.91 L368.24,652.93 L369.16,652.95 L370.07,652.97 L370.99,652.98 L371.91,653.00 L372.82,653.02 L373.74,653.03 L374.66,653.05 L375.57,653.07 L376.49,653.08 L377.41,653.10 L378.32,653.12 L379.24,653.13 L380.16,653.15 L381.08,653.17 L381.99,653.18 L382.91,653.20 L383.83,653.21 L384.74,653.23 L385.66,653.25 L386.58,653.26 L387.49,653.28 L388.41,653.29 L389.33,653.31 L390.24,653.32 L391.16,653.34 L392.08,653.35 L393.00,653.37 L393.91,653.38 L394.83,653.40 L395.75,653.41 L396.66,653.43 L397.58,653.44 L398.50,653.45 L399.41,653.47 L400.33,653.48 L401.25,653.50 L402.16,653.51 L403.08,653.52 L404.00,653.54 L404.92,653.55 L405.83,653.57 L406.75,653.58 L407.67,653.59 L408.58,653.61 L409.50,653.62 L410.42,653.63 L411.33,653.65 L412.25,653.66 L413.17,653.67 L414.08,653.68 L415.00,653.70 L415.92,653.71 L416.84,653.72 L417.75,653.74 L418.67,653.75 L419.59,653.76 L420.50,653.77 L421.42,653.78 L422.34,653.80 L423.25,653.81 L424.17,653.82 L425.09,653.83 L426.01,653.84 L426.92,653.86 L427.84,653.87 L428.76,653.88 L429.67,653.89 L430.59,653.90 L431.51,653.91 L432.42,653.93 L433.34,653.94 L434.26,653.95 L435.17,653.96 L436.09,653.97 L437.01,653.98 L437.93,653.99 L438.84,654.00 L439.76,654.01 L440.68,654.02 L441.59,654.03 L442.51,654.05 L443.43,654.06 L444.34,654.07 L445.26,654.08 L446.18,654.09 L447.09,654.10 L448.01,654.11 L448.93,654.12 L449.85,654.13 L450.76,654.14 L451.68,654.15 L452.60,654.16 L453.51,654.17 L454.43,654.18 L455.35,654.19 L456.26,654.20 L457.18,654.21 L458.10,654.21 L459.01,654.22 L459.93,654.23 L460.85,654.24 L461.77,654.25 L462.68,654.26 L463.60,654.27 L464.52,654.28 L465.43,654.29 L466.35,654.30 L467.27,654.31 L468.18,654.32 L469.10,654.32 L470.02,654.33 L470.93,654.34 L471.85,654.35 L472.77,654.36 L473.69,654.37 L474.60,654.38 L475.52,654.38 L476.44,654.39 L477.35,654.40 L478.27,654.41 L479.19,654.42 L480.10,654.42 L481.02,654.43 L481.94,654.44 L482.85,654.45 L483.77,654.46 L484.69,654.46 L485.61,654.47 L486.52,654.48 L487.44,654.49 L488.36,654.50 L489.27,654.50 L490.19,654.51 L491.11,654.52 L492.02,654.53 L492.94,654.53 L493.86,654.54 L494.77,654.55 L495.69,654.56 L496.61,654.56 L497.53,654.57 L498.44,654.58 L499.36,654.58 L500.28,654.59 L501.19,654.60 L502.11,654.61 L503.03,654.61 L503.94,654.62 L504.86,654.63 L505.78,654.63 L506.69,654.64 L507.61,654.65 L508.53,654.65 L509.45,654.66 L510.36,654.67 L511.28,654.67 L512.20,654.68 L513.11,654.69 L514.03,654.69 L514.95,654.70 L515.86,654.70 L516.78,654.71 L517.70,654.72 L518.61,654.72 L519.53,654.73 L520.45,654.74 L521.37,654.74 L522.28,654.75 L523.20,654.75 L524.12,654.76 L525.03,654.77 L525.95,654.77 L526.87,654.78 L527.78,654.78 L528.70,654.79 L529.62,654.80 L530.53,654.80 L531.45,654.81 L532.37,654.81 L533.29,654.82 L534.20,654.82 L535.12,654.83 L536.04,654.83 L536.95,654.84 L537.87,654.85 L538.79,654.85 L539.70,654.86 L540.62,654.86 L541.54,654.87 L542.45,654.87 L543.37,654.88 L544.29,654.88 L545.21,654.89 L546.12,654.89 L547.04,654.90 L547.96,654.90 L548.87,654.91 L549.79,654.91 L550.71,654.92 L551.62,654.92 L552.54,654.93 L553.46,654.93 L554.37,654.94 L555.29,654.94 L556.21,654.95 L557.13,654.95 L558.04,654.96 L558.96,654.96 L559.88,654.97 L560.79,654.97 L561.71,654.98 L562.63,654.98 L563.54,654.99 L564.46,654.99 L565.38,654.99 L566.29,655.00 L567.21,655.00 L568.13,655.01 L569.05,655.01 L569.96,655.02 L570.88,655.02 L571.80,655.02 L572.71,655.03 L573.63,655.03 L574.55,655.04 L575.46,655.04 L576.38,655.05 L577.30,655.05 L578.21,655.05 L579.13,655.06 L580.05,655.06 L580.97,655.07 L581.88,655.07 L582.80,655.07 L583.72,655.08 L584.63,655.08 L585.55,655.09 L586.47,655.09 L587.38,655.09 L588.30,655.10 L589.22,655.10 L590.13,655.11 L591.05,655.11 L591.97,655.11 L592.89,655.12 L593.80,655.12 L594.72,655.12 L595.64,655.13 L596.55,655.13 L597.47,655.13 L598.39,655.14 L599.30,655.14 L600.22,655.15 L601.14,655.15 L602.05,655.15 L602.97,655.16 L603.89,655.16 L604.81,655.16 L605.72,655.17 L606.64,655.17 L607.56,655.17 L608.47,655.18 L609.39,655.18 L610.31,655.18 L611.22,655.19 L612.14,655.19 L613.06,655.19 L613.97,655.20 L614.89,655.20 L615.81,655.20 L616.73,655.21 L617.64,655.21 L618.56,655.21 L619.48,655.21 L620.39,655.22 L621.31,655.22 L622.23,655.22 L623.14,655.23 L624.06,655.23 L624.98,655.23 L625.89,655.24 L626.81,655.24 L627.73,655.24 L628.65,655.24 L629.56,655.25 L630.48,655.25 L631.40,655.25 L632.31,655.26 L633.23,655.26 L634.15,655.26 L635.06,655.26 L635.98,655.27 L636.90,655.27 L637.81,655.27 L638.73,655.28 L639.65,655.28 L640.57,655.28 L641.48,655.28 L642.40,655.29 L643.32,655.29 L644.23,655.29 L645.15,655.29 L646.07,655.30 L646.98,655.30 L647.90,655.30 L648.82,655.30 L649.73,655.31 L650.65,655.31 L651.57,655.31 L652.49,655.31 L653.40,655.32 L654.32,655.32 L655.24,655.32 L656.15,655.32 L657.07,655.33 L657.99,655.33 L658.90,655.33 L659.82,655.33 L660.74,655.34 L661.65,655.34 L662.57,655.34 L663.49,655.34 L664.41,655.34 L665.32,655.35 L666.24,655.35 L667.16,655.35 L668.07,655.35 L668.99,655.36 L669.91,655.36 L670.82,655.36 L671.74,655.36 L672.66,655.36 L673.57,655.37 L674.49,655.37 L675.41,655.37 L676.33,655.37 L677.24,655.37 L678.16,655.38 L679.08,655.38 L679.99,655.38 L680.91,655.38 L681.83,655.39 L682.74,655.39 L683.66,655.39 L684.58,655.39 L685.49,655.39 L686.41,655.40 L687.33,655.40 L688.25,655.40 L689.16,655.40 L690.08,655.40 L691.00,655.40 L691.91,655.41 L692.83,655.41 L693.75,655.41 L694.66,655.41 L695.58,655.41 L696.50,655.42 L697.41,655.42 L698.33,655.42 L699.25,655.42 L700.17,655.42 L701.08,655.42 L702.00,655.43 L702.92,655.43 L703.83,655.43 L704.75,655.43 L705.67,655.43 L706.58,655.43 L707.50,655.44 L708.42,655.44 L709.33,655.44 L710.25,655.44 L711.17,655.44 L712.09,655.44 L713.00,655.45 L713.92,655.45 L714.84,655.45 L715.75,655.45 L716.67,655.45 L717.59,655.45 L718.50,655.46 L719.42,655.46 L720.34,655.46 L721.25,655.46 L722.17,655.46 L723.09,655.46 L724.01,655.46 L724.92,655.47 L725.84,655.47 L726.76,655.47 L727.67,655.47 L728.59,655.47 L729.51,655.47 L730.42,655.48 L731.34,655.48 L732.26,655.48 L733.17,655.48 L734.09,655.48 L735.01,655.48 L735.93,655.48 L736.84,655.49 L737.76,655.49 L738.68,655.49 L739.59,655.49 L740.51,655.49 L741.43,655.49 L742.34,655.49 L743.26,655.49 L744.18,655.50 L745.09,655.50 L746.01,655.50 L746.93,655.50 L747.85,655.50 L748.76,655.50 L749.68,655.50 L750.60,655.50 L751.51,655.51 L752.43,655.51 L753.35,655.51 L754.26,655.51 L755.18,655.51 L756.10,655.51 L757.01,655.51 L757.93,655.51 L758.85,655.52 L759.77,655.52 L760.68,655.52 L761.60,655.52 L762.52,655.52 L763.43,655.52 L764.35,655.52 L765.27,655.52 L766.18,655.52 L767.10,655.53 L768.02,655.53 L768.93,655.53 L769.85,655.53 L770.77,655.53 L771.69,655.53 L772.60,655.53 L773.52,655.53 L774.44,655.53 L775.35,655.54 L776.27,655.54 L777.19,655.54 L778.10,655.54 L779.02,655.54 L779.94,655.54 L780.85,655.54 L781.77,655.54 L782.69,655.54 L783.61,655.54 L784.52,655.55 L785.44,655.55 L786.36,655.55 L787.27,655.55 L788.19,655.55 L789.11,655.55 L790.02,655.55 L790.94,655.55 L791.86,655.55 L792.77,655.55 L793.69,655.56 L794.61,655.56 L795.53,655.56 L796.44,655.56 L797.36,655.56 L798.28,655.56 L799.19,655.56 L800.11,655.56 L801.03,655.56 L801.94,655.56 L802.86,655.56 L803.78,655.56 L804.69,655.57 L805.61,655.57 L806.53,655.57 L807.45,655.57 L808.36,655.57 L809.28,655.57 L810.20,655.57 L811.11,655.57 L812.03,655.57 L812.95,655.57 L813.86,655.57 L814.78,655.57 L815.70,655.58 L816.62,655.58 L817.53,655.58 L818.45,655.58 L819.37,655.58 L820.28,655.58 L821.20,655.58 L822.12,655.58 L823.03,655.58 L823.95,655.58 L824.87,655.58 L825.78,655.58 L826.70,655.58 L827.62,655.59 L828.54,655.59 L829.45,655.59 L830.37,655.59 L831.29,655.59 L832.20,655.59 L833.12,655.59 L834.04,655.59 L834.95,655.59 L835.87,655.59 L836.79,655.59 L837.70,655.59 L838.62,655.59 L839.54,655.59 L840.46,655.60 L841.37,655.60 L842.29,655.60 L843.21,655.60 L844.12,655.60 L845.04,655.60 L845.96,655.60 L846.87,655.60 L847.79,655.60 L848.71,655.60 L849.62,655.60 L850.54,655.60 L851.46,655.60 L852.38,655.60 L853.29,655.60 L854.21,655.60 L855.13,655.61 L856.04,655.61 L856.96,655.61 L857.88,655.61 L858.79,655.61 L859.71,655.61 L860.63,655.61 L861.54,655.61 L862.46,655.61 L863.38,655.61 L864.30,655.61 L865.21,655.61 L866.13,655.61 L867.05,655.61 L867.96,655.61 L868.88,655.61 L869.80,655.61 L870.71,655.62 L871.63,655.62 L872.55,655.62 L873.46,655.62 L874.38,655.62 L875.30,655.62 L876.22,655.62 L877.13,655.62 L878.05,655.62 L878.97,655.62 L879.88,655.62 L880.80,655.62 L881.72,655.62 L882.63,655.62 L883.55,655.62 L884.47,655.62 L885.38,655.62 L886.30,655.62 L887.22,655.62 L888.14,655.62 L889.05,655.63 L889.97,655.63 L890.89,655.63 L891.80,655.63 L892.72,655.63 L893.64,655.63 L894.55,655.63 L895.47,655.63 L896.39,655.63 L897.30,655.63 L898.22,655.63 L899.14,655.63 L900.06,655.63 L900.97,655.63 L901.89,655.63 L902.81,655.63 L903.72,655.63 L904.64,655.63 L905.56,655.63 L906.47,655.63 L907.39,655.63 L908.31,655.63 L909.22,655.63 L910.14,655.64 L911.06,655.64 L911.98,655.64 L912.89,655.64 L913.81,655.64 L914.73,655.64 L915.64,655.64 L916.56,655.64 L917.48,655.64 L918.39,655.64 L919.31,655.64 L920.23,655.64 L921.14,655.64 L922.06,655.64 L922.98,655.64 L923.90,655.64 L924.81,655.64 L925.73,655.64 L926.65,655.64 L927.56,655.64 L928.48,655.64 L929.40,655.64 L930.31,655.64 L931.23,655.64 L932.15,655.64 L933.06,655.64 L933.98,655.65 L934.90,655.65 L935.82,655.65 L936.73,655.65 L937.65,655.65 L938.57,655.65 L939.48,655.65 L940.40,655.65 L941.32,655.65 L942.23,655.65 L943.15,655.65 L944.07,655.65 L944.98,655.65 L945.90,655.65 L946.82,655.65 L947.74,655.65 L948.65,655.65 L949.57,655.65 L950.49,655.65 L951.40,655.65 L952.32,655.65 L953.24,655.65 L954.15,655.65 L955.07,655.65 L955.99,655.65 L956.90,655.65 L957.82,655.65 L958.74,655.65 L959.66,655.65 L960.57,655.65 L961.49,655.65 L962.41,655.66 L963.32,655.66 L964.24,655.66 L965.16,655.66 L966.07,655.66 L966.99,655.66 L967.91,655.66 L968.82,655.66 L969.74,655.66 L970.66,655.66 L971.58,655.66 L972.49,655.66 L973.41,655.66 L974.33,655.66 L975.24,655.66 L976.16,655.66 L977.08,655.66 L977.99,655.66 L978.91,655.66 L979.83,655.66 L980.74,655.66 L981.66,655.66 L982.58,655.66 L983.50,655.66 L984.41,655.66 L985.33,655.66 L986.25,655.66 L987.16,655.66 L988.08,655.66 L989.00,655.66 L989.91,655.66 L990.83,655.66 L991.75,655.66 L992.66,655.66 L993.58,655.66 L994.50,655.66 L995.42,655.66 L996.33,655.66 L997.25,655.66 L998.17,655.66 L999.08,655.67 L1000.00,655.67" stroke="#00f06c" stroke-dasharray="12 10.85" stroke-dashoffset="19.23"/>
</g>
<g fill="none" stroke-width="3">
<path d="M767.4,60.1H947.2" stroke="#0a46ff" stroke-width="2.8"/>
<path d="M767.6,93.9H947.2" stroke="#0a46ff" stroke-width="2.6" stroke-dasharray="2.6 5.43"/>
<path d="M767.4,127.3H947.2" stroke="#ff0008" stroke-dasharray="12 10.85" stroke-dashoffset="15.35"/>
<path d="M767.4,161.2H947.2" stroke="#00f06c" stroke-dasharray="12 10.85" stroke-dashoffset="15.35"/>
</g>
<rect x="767" y="126.8" width="1" height="1" fill="#ff0008"/><rect x="767" y="160.7" width="1" height="1" fill="#00f06c"/>
<g font-family="'Liberation Sans', Arial, Helvetica, sans-serif" font-size="29.3" fill="#000" stroke="#000" stroke-width="0.5" text-rendering="geometricPrecision">
<text transform="translate(111.4,115.9) scale(1,1.015)" text-anchor="end">100</text>
<text transform="translate(111.4,260.6) scale(1,1.015)" text-anchor="end">10</text>
<text transform="translate(111.4,405.3) scale(1,1.015)" text-anchor="end">1</text>
<text transform="translate(111.4,529.8) scale(1,1.015)" text-anchor="end">300</text>
<text transform="translate(111.4,576.5) scale(1,1.015)" text-anchor="end">200</text>
<text transform="translate(111.4,623.2) scale(1,1.015)" text-anchor="end">100</text>
<text transform="translate(111.4,669.9) scale(1,1.015)" text-anchor="end">0</text>
<text transform="translate(111.4,716.6) scale(1,1.015)" text-anchor="end">-100</text>
<text transform="translate(361.1,783.6) scale(1,0.99)" text-anchor="middle">1</text>
<text transform="translate(793.6,783.6) scale(1,0.99)" text-anchor="middle">10</text>
<text transform="translate(520.4,827.9) scale(1,1.045)">M / M<tspan font-size="18.4" dx="-0.4" dy="8.8">O</tspan></text>
<text transform="translate(31.3,246.3) rotate(-90) scale(1,1.045)" text-anchor="middle">dN/d <tspan font-family="'Liberation Serif', 'Times New Roman', serif" font-style="italic" font-size="31">log</tspan> M</text>
<text transform="translate(22.6,618.2) rotate(-90) scale(1,1.045)" text-anchor="middle">dN/d <tspan font-family="'Liberation Serif', 'Times New Roman', serif" font-style="italic" font-size="31">log</tspan> M</text>
<g font-size="23.85" text-anchor="end">
<text transform="translate(746.5,68.5) scale(1,1.045)" textLength="228.8">DCMF analytic model</text>
<text transform="translate(746.5,102.3) scale(1,1.045)" textLength="224.0">input source function</text>
<text transform="translate(746.5,136.2) scale(1,1.045)" textLength="337.8">bottom-heavy IMF renormalized</text>
<text transform="translate(746.5,170.0) scale(1,1.045)" textLength="192.8">bottom-heavy IMF</text>
</g>
</g>
<circle cx="599.4" cy="827.4" r="0.8" fill="#000"/>
</svg></body></html>
